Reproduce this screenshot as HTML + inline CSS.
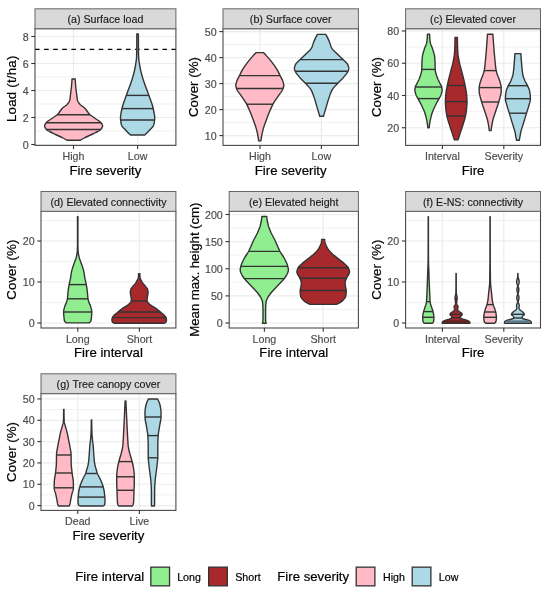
<!DOCTYPE html>
<html><head><meta charset="utf-8"><title>Violin plots</title>
<style>html,body{margin:0;padding:0;background:#fff}body{width:550px;height:594px;overflow:hidden;font-family:"Liberation Sans",Arial,sans-serif}</style>
</head><body>
<svg width="550" height="594" viewBox="0 0 550 594" style="display:block">
<rect x="35" y="28.7" width="140.9" height="116.7" fill="#fff"/>
<line x1="35" x2="175.9" y1="131.00" y2="131.00" stroke="#EBEBEB" stroke-width="0.7"/>
<line x1="35" x2="175.9" y1="104.00" y2="104.00" stroke="#EBEBEB" stroke-width="0.7"/>
<line x1="35" x2="175.9" y1="77.00" y2="77.00" stroke="#EBEBEB" stroke-width="0.7"/>
<line x1="35" x2="175.9" y1="50.00" y2="50.00" stroke="#EBEBEB" stroke-width="0.7"/>
<line x1="35" x2="175.9" y1="144.50" y2="144.50" stroke="#ECECEC" stroke-width="1.2"/>
<line x1="35" x2="175.9" y1="117.50" y2="117.50" stroke="#ECECEC" stroke-width="1.2"/>
<line x1="35" x2="175.9" y1="90.50" y2="90.50" stroke="#ECECEC" stroke-width="1.2"/>
<line x1="35" x2="175.9" y1="63.50" y2="63.50" stroke="#ECECEC" stroke-width="1.2"/>
<line x1="35" x2="175.9" y1="36.50" y2="36.50" stroke="#ECECEC" stroke-width="1.2"/>
<line x1="73.50" x2="73.50" y1="28.7" y2="145.4" stroke="#ECECEC" stroke-width="1.2"/>
<line x1="137.60" x2="137.60" y1="28.7" y2="145.4" stroke="#ECECEC" stroke-width="1.2"/>
<line x1="35" x2="175.9" y1="49.3" y2="49.3" stroke="#000" stroke-width="1.3" stroke-dasharray="4.55,4.55"/>
<path d="M72.00,79.00 L71.96,79.75 L71.92,80.50 L71.88,81.25 L71.83,82.00 L71.77,82.75 L71.72,83.50 L71.66,84.25 L71.59,85.00 L71.53,85.75 L71.46,86.50 L71.39,87.25 L71.32,88.00 L71.24,88.75 L71.16,89.50 L71.06,90.25 L70.97,91.00 L70.87,91.75 L70.77,92.50 L70.66,93.25 L70.56,94.00 L70.47,94.75 L70.38,95.50 L70.30,96.25 L70.22,97.00 L70.13,97.75 L70.03,98.50 L69.91,99.25 L69.76,100.00 L69.58,100.75 L69.27,101.50 L68.83,102.25 L68.30,103.00 L67.71,103.75 L67.07,104.50 L66.24,105.25 L65.23,106.00 L64.17,106.75 L63.17,107.50 L62.35,108.25 L61.68,109.00 L61.08,109.75 L60.54,110.50 L60.02,111.25 L59.49,112.00 L58.94,112.75 L58.34,113.50 L57.65,114.25 L56.84,115.00 L55.88,115.75 L54.81,116.50 L53.71,117.25 L52.62,118.00 L51.56,118.75 L50.41,119.50 L49.23,120.25 L48.10,121.00 L47.12,121.75 L46.35,122.50 L45.81,123.25 L45.30,124.00 L44.88,124.75 L44.64,125.50 L44.63,126.25 L44.84,127.00 L45.22,127.75 L45.72,128.50 L46.30,129.25 L47.00,130.00 L48.08,130.75 L49.44,131.50 L50.96,132.25 L52.51,133.00 L53.99,133.75 L55.55,134.50 L57.19,135.25 L58.85,136.00 L60.47,136.75 L62.00,137.50 L63.43,138.25 L64.82,139.00 L66.15,139.75 L67.10,140.30 L80.10,140.30 L81.05,139.75 L82.38,139.00 L83.77,138.25 L85.20,137.50 L86.73,136.75 L88.35,136.00 L90.01,135.25 L91.65,134.50 L93.21,133.75 L94.69,133.00 L96.24,132.25 L97.76,131.50 L99.12,130.75 L100.20,130.00 L100.90,129.25 L101.48,128.50 L101.98,127.75 L102.36,127.00 L102.57,126.25 L102.56,125.50 L102.32,124.75 L101.90,124.00 L101.39,123.25 L100.85,122.50 L100.08,121.75 L99.10,121.00 L97.97,120.25 L96.79,119.50 L95.64,118.75 L94.58,118.00 L93.49,117.25 L92.39,116.50 L91.32,115.75 L90.36,115.00 L89.55,114.25 L88.86,113.50 L88.26,112.75 L87.71,112.00 L87.18,111.25 L86.66,110.50 L86.12,109.75 L85.52,109.00 L84.85,108.25 L84.03,107.50 L83.03,106.75 L81.97,106.00 L80.96,105.25 L80.13,104.50 L79.49,103.75 L78.90,103.00 L78.37,102.25 L77.93,101.50 L77.62,100.75 L77.44,100.00 L77.29,99.25 L77.17,98.50 L77.07,97.75 L76.98,97.00 L76.90,96.25 L76.82,95.50 L76.73,94.75 L76.64,94.00 L76.54,93.25 L76.43,92.50 L76.33,91.75 L76.23,91.00 L76.14,90.25 L76.04,89.50 L75.96,88.75 L75.88,88.00 L75.81,87.25 L75.74,86.50 L75.67,85.75 L75.61,85.00 L75.54,84.25 L75.48,83.50 L75.43,82.75 L75.37,82.00 L75.32,81.25 L75.28,80.50 L75.24,79.75 L75.20,79.00Z" fill="#FFBAC5" stroke="#333333" stroke-width="1.4" stroke-linejoin="round"/>
<line x1="57.19" y1="114.70" x2="90.01" y2="114.70" stroke="#333333" stroke-width="1.4"/>
<line x1="46.13" y1="122.80" x2="101.07" y2="122.80" stroke="#333333" stroke-width="1.4"/>
<line x1="46.50" y1="129.50" x2="100.70" y2="129.50" stroke="#333333" stroke-width="1.4"/>
<path d="M136.80,34.00 L136.80,34.75 L136.80,35.50 L136.80,36.25 L136.80,37.00 L136.80,37.75 L136.80,38.50 L136.79,39.25 L136.79,40.00 L136.79,40.75 L136.79,41.50 L136.79,42.25 L136.78,43.00 L136.78,43.75 L136.78,44.50 L136.78,45.25 L136.77,46.00 L136.77,46.75 L136.76,47.50 L136.76,48.25 L136.76,49.00 L136.75,49.75 L136.75,50.50 L136.74,51.25 L136.72,52.00 L136.71,52.75 L136.69,53.50 L136.66,54.25 L136.64,55.00 L136.61,55.75 L136.57,56.50 L136.54,57.25 L136.50,58.00 L136.45,58.75 L136.37,59.50 L136.28,60.25 L136.18,61.00 L136.06,61.75 L135.94,62.50 L135.82,63.25 L135.70,64.00 L135.58,64.75 L135.46,65.50 L135.33,66.25 L135.19,67.00 L135.05,67.75 L134.91,68.50 L134.76,69.25 L134.60,70.00 L134.44,70.75 L134.26,71.50 L134.08,72.25 L133.89,73.00 L133.70,73.75 L133.50,74.50 L133.29,75.25 L133.08,76.00 L132.87,76.75 L132.65,77.50 L132.43,78.25 L132.20,79.00 L131.96,79.75 L131.71,80.50 L131.45,81.25 L131.20,82.00 L130.94,82.75 L130.67,83.50 L130.41,84.25 L130.15,85.00 L129.88,85.75 L129.60,86.50 L129.32,87.25 L129.04,88.00 L128.76,88.75 L128.47,89.50 L128.19,90.25 L127.91,91.00 L127.62,91.75 L127.34,92.50 L127.07,93.25 L126.80,94.00 L126.53,94.75 L126.27,95.50 L126.00,96.25 L125.73,97.00 L125.46,97.75 L125.19,98.50 L124.91,99.25 L124.64,100.00 L124.37,100.75 L124.10,101.50 L123.84,102.25 L123.58,103.00 L123.33,103.75 L123.09,104.50 L122.86,105.25 L122.64,106.00 L122.44,106.75 L122.25,107.50 L122.08,108.25 L121.92,109.00 L121.75,109.75 L121.59,110.50 L121.42,111.25 L121.26,112.00 L121.11,112.75 L120.97,113.50 L120.84,114.25 L120.72,115.00 L120.63,115.75 L120.56,116.50 L120.52,117.25 L120.50,118.00 L120.51,118.75 L120.55,119.50 L120.62,120.25 L120.71,121.00 L120.82,121.75 L120.95,122.50 L121.10,123.25 L121.26,124.00 L121.44,124.75 L121.67,125.50 L122.09,126.25 L122.66,127.00 L123.33,127.75 L124.06,128.50 L124.80,129.25 L125.50,130.00 L126.18,130.75 L126.89,131.50 L127.62,132.25 L128.37,133.00 L129.15,133.75 L129.95,134.50 L130.50,135.00 L144.70,135.00 L145.25,134.50 L146.05,133.75 L146.83,133.00 L147.58,132.25 L148.31,131.50 L149.02,130.75 L149.70,130.00 L150.40,129.25 L151.14,128.50 L151.87,127.75 L152.54,127.00 L153.11,126.25 L153.53,125.50 L153.76,124.75 L153.94,124.00 L154.10,123.25 L154.25,122.50 L154.38,121.75 L154.49,121.00 L154.58,120.25 L154.65,119.50 L154.69,118.75 L154.70,118.00 L154.68,117.25 L154.64,116.50 L154.57,115.75 L154.48,115.00 L154.36,114.25 L154.23,113.50 L154.09,112.75 L153.94,112.00 L153.78,111.25 L153.61,110.50 L153.45,109.75 L153.28,109.00 L153.12,108.25 L152.95,107.50 L152.76,106.75 L152.56,106.00 L152.34,105.25 L152.11,104.50 L151.87,103.75 L151.62,103.00 L151.36,102.25 L151.10,101.50 L150.83,100.75 L150.56,100.00 L150.29,99.25 L150.01,98.50 L149.74,97.75 L149.47,97.00 L149.20,96.25 L148.93,95.50 L148.67,94.75 L148.40,94.00 L148.13,93.25 L147.86,92.50 L147.58,91.75 L147.29,91.00 L147.01,90.25 L146.73,89.50 L146.44,88.75 L146.16,88.00 L145.88,87.25 L145.60,86.50 L145.32,85.75 L145.05,85.00 L144.79,84.25 L144.53,83.50 L144.26,82.75 L144.00,82.00 L143.75,81.25 L143.49,80.50 L143.24,79.75 L143.00,79.00 L142.77,78.25 L142.55,77.50 L142.33,76.75 L142.12,76.00 L141.91,75.25 L141.70,74.50 L141.50,73.75 L141.31,73.00 L141.12,72.25 L140.94,71.50 L140.76,70.75 L140.60,70.00 L140.44,69.25 L140.29,68.50 L140.15,67.75 L140.01,67.00 L139.87,66.25 L139.74,65.50 L139.62,64.75 L139.50,64.00 L139.38,63.25 L139.26,62.50 L139.14,61.75 L139.02,61.00 L138.92,60.25 L138.83,59.50 L138.75,58.75 L138.70,58.00 L138.66,57.25 L138.63,56.50 L138.59,55.75 L138.56,55.00 L138.54,54.25 L138.51,53.50 L138.49,52.75 L138.48,52.00 L138.46,51.25 L138.45,50.50 L138.45,49.75 L138.44,49.00 L138.44,48.25 L138.44,47.50 L138.43,46.75 L138.43,46.00 L138.42,45.25 L138.42,44.50 L138.42,43.75 L138.42,43.00 L138.41,42.25 L138.41,41.50 L138.41,40.75 L138.41,40.00 L138.41,39.25 L138.40,38.50 L138.40,37.75 L138.40,37.00 L138.40,36.25 L138.40,35.50 L138.40,34.75 L138.40,34.00Z" fill="#ADD8E6" stroke="#333333" stroke-width="1.4" stroke-linejoin="round"/>
<line x1="126.30" y1="95.40" x2="148.90" y2="95.40" stroke="#333333" stroke-width="1.4"/>
<line x1="122.00" y1="108.60" x2="153.20" y2="108.60" stroke="#333333" stroke-width="1.4"/>
<line x1="120.60" y1="120.00" x2="154.60" y2="120.00" stroke="#333333" stroke-width="1.4"/>
<rect x="35" y="28.7" width="140.9" height="116.7" fill="none" stroke="#4a4a4a" stroke-width="1.1"/>
<rect x="35" y="8.8" width="140.9" height="19.9" fill="#D9D9D9" stroke="#666" stroke-width="1.0"/>
<text x="105.45" y="23.45" font-size="10.67" fill="#1A1A1A" stroke="#1A1A1A" stroke-width="0.15" text-anchor="middle" font-family="Liberation Sans, Arial, Helvetica, sans-serif">(a) Surface load</text>
<line x1="31.30" x2="35" y1="144.50" y2="144.50" stroke="#333" stroke-width="1.1"/>
<text x="28.60" y="148.70" font-size="10.67" fill="#4D4D4D" stroke="#4D4D4D" stroke-width="0.18" text-anchor="end" font-family="Liberation Sans, Arial, Helvetica, sans-serif">0</text>
<line x1="31.30" x2="35" y1="117.50" y2="117.50" stroke="#333" stroke-width="1.1"/>
<text x="28.60" y="121.70" font-size="10.67" fill="#4D4D4D" stroke="#4D4D4D" stroke-width="0.18" text-anchor="end" font-family="Liberation Sans, Arial, Helvetica, sans-serif">2</text>
<line x1="31.30" x2="35" y1="90.50" y2="90.50" stroke="#333" stroke-width="1.1"/>
<text x="28.60" y="94.70" font-size="10.67" fill="#4D4D4D" stroke="#4D4D4D" stroke-width="0.18" text-anchor="end" font-family="Liberation Sans, Arial, Helvetica, sans-serif">4</text>
<line x1="31.30" x2="35" y1="63.50" y2="63.50" stroke="#333" stroke-width="1.1"/>
<text x="28.60" y="67.70" font-size="10.67" fill="#4D4D4D" stroke="#4D4D4D" stroke-width="0.18" text-anchor="end" font-family="Liberation Sans, Arial, Helvetica, sans-serif">6</text>
<line x1="31.30" x2="35" y1="36.50" y2="36.50" stroke="#333" stroke-width="1.1"/>
<text x="28.60" y="40.70" font-size="10.67" fill="#4D4D4D" stroke="#4D4D4D" stroke-width="0.18" text-anchor="end" font-family="Liberation Sans, Arial, Helvetica, sans-serif">8</text>
<line x1="73.50" x2="73.50" y1="145.4" y2="149.10" stroke="#333" stroke-width="1.1"/>
<text x="73.50" y="160.20" font-size="10.67" fill="#4D4D4D" stroke="#4D4D4D" stroke-width="0.18" text-anchor="middle" font-family="Liberation Sans, Arial, Helvetica, sans-serif">High</text>
<line x1="137.60" x2="137.60" y1="145.4" y2="149.10" stroke="#333" stroke-width="1.1"/>
<text x="137.60" y="160.20" font-size="10.67" fill="#4D4D4D" stroke="#4D4D4D" stroke-width="0.18" text-anchor="middle" font-family="Liberation Sans, Arial, Helvetica, sans-serif">Low</text>
<text x="105.45" y="174.50" font-size="13.2" fill="#000" stroke="#000" stroke-width="0.2" text-anchor="middle" font-family="Liberation Sans, Arial, Helvetica, sans-serif">Fire severity</text>
<text transform="translate(16.2,88.85) rotate(-90)" font-size="13.33" fill="#000" stroke="#000" stroke-width="0.2" text-anchor="middle" textLength="66.5" font-family="Liberation Sans, Arial, Helvetica, sans-serif">Load (t/ha)</text>
<rect x="223" y="28.7" width="135.39999999999998" height="116.7" fill="#fff"/>
<line x1="223" x2="358.4" y1="122.60" y2="122.60" stroke="#EBEBEB" stroke-width="0.7"/>
<line x1="223" x2="358.4" y1="96.60" y2="96.60" stroke="#EBEBEB" stroke-width="0.7"/>
<line x1="223" x2="358.4" y1="70.60" y2="70.60" stroke="#EBEBEB" stroke-width="0.7"/>
<line x1="223" x2="358.4" y1="44.60" y2="44.60" stroke="#EBEBEB" stroke-width="0.7"/>
<line x1="223" x2="358.4" y1="135.60" y2="135.60" stroke="#ECECEC" stroke-width="1.2"/>
<line x1="223" x2="358.4" y1="109.60" y2="109.60" stroke="#ECECEC" stroke-width="1.2"/>
<line x1="223" x2="358.4" y1="83.60" y2="83.60" stroke="#ECECEC" stroke-width="1.2"/>
<line x1="223" x2="358.4" y1="57.60" y2="57.60" stroke="#ECECEC" stroke-width="1.2"/>
<line x1="223" x2="358.4" y1="31.60" y2="31.60" stroke="#ECECEC" stroke-width="1.2"/>
<line x1="260.00" x2="260.00" y1="28.7" y2="145.4" stroke="#ECECEC" stroke-width="1.2"/>
<line x1="321.40" x2="321.40" y1="28.7" y2="145.4" stroke="#ECECEC" stroke-width="1.2"/>
<path d="M256.20,52.60 L255.46,53.35 L254.73,54.10 L254.01,54.85 L253.31,55.60 L252.62,56.35 L251.94,57.10 L251.27,57.85 L250.62,58.60 L249.98,59.35 L249.36,60.10 L248.75,60.85 L248.16,61.60 L247.57,62.35 L247.00,63.10 L246.44,63.85 L245.89,64.60 L245.35,65.35 L244.82,66.10 L244.30,66.85 L243.80,67.60 L243.32,68.35 L242.85,69.10 L242.40,69.85 L241.97,70.60 L241.57,71.35 L241.19,72.10 L240.82,72.85 L240.46,73.60 L240.10,74.35 L239.74,75.10 L239.38,75.85 L238.99,76.60 L238.59,77.35 L238.18,78.10 L237.79,78.85 L237.43,79.60 L237.11,80.35 L236.83,81.10 L236.59,81.85 L236.35,82.60 L236.12,83.35 L235.94,84.10 L235.83,84.85 L235.80,85.60 L235.90,86.35 L236.08,87.10 L236.31,87.85 L236.57,88.60 L236.85,89.35 L237.23,90.10 L237.68,90.85 L238.18,91.60 L238.71,92.35 L239.27,93.10 L239.83,93.85 L240.38,94.60 L240.90,95.35 L241.40,96.10 L241.90,96.85 L242.42,97.60 L242.94,98.35 L243.46,99.10 L243.97,99.85 L244.48,100.60 L244.98,101.35 L245.45,102.10 L245.91,102.85 L246.34,103.60 L246.74,104.35 L247.12,105.10 L247.49,105.85 L247.85,106.60 L248.19,107.35 L248.53,108.10 L248.85,108.85 L249.18,109.60 L249.49,110.35 L249.80,111.10 L250.11,111.85 L250.42,112.60 L250.73,113.35 L251.03,114.10 L251.32,114.85 L251.61,115.60 L251.90,116.35 L252.18,117.10 L252.46,117.85 L252.73,118.60 L253.01,119.35 L253.28,120.10 L253.55,120.85 L253.83,121.60 L254.11,122.35 L254.39,123.10 L254.67,123.85 L254.94,124.60 L255.21,125.35 L255.47,126.10 L255.72,126.85 L255.96,127.60 L256.19,128.35 L256.40,129.10 L256.60,129.85 L256.78,130.60 L256.96,131.35 L257.13,132.10 L257.30,132.85 L257.45,133.60 L257.60,134.35 L257.75,135.10 L257.89,135.85 L258.03,136.60 L258.16,137.35 L258.28,138.10 L258.40,138.85 L258.52,139.60 L258.62,140.35 L258.70,140.90 L260.90,140.90 L260.98,140.35 L261.08,139.60 L261.20,138.85 L261.32,138.10 L261.44,137.35 L261.57,136.60 L261.71,135.85 L261.85,135.10 L262.00,134.35 L262.15,133.60 L262.30,132.85 L262.47,132.10 L262.64,131.35 L262.82,130.60 L263.00,129.85 L263.20,129.10 L263.41,128.35 L263.64,127.60 L263.88,126.85 L264.13,126.10 L264.39,125.35 L264.66,124.60 L264.93,123.85 L265.21,123.10 L265.49,122.35 L265.77,121.60 L266.05,120.85 L266.32,120.10 L266.59,119.35 L266.87,118.60 L267.14,117.85 L267.42,117.10 L267.70,116.35 L267.99,115.60 L268.28,114.85 L268.57,114.10 L268.87,113.35 L269.18,112.60 L269.49,111.85 L269.80,111.10 L270.11,110.35 L270.42,109.60 L270.75,108.85 L271.07,108.10 L271.41,107.35 L271.75,106.60 L272.11,105.85 L272.48,105.10 L272.86,104.35 L273.26,103.60 L273.69,102.85 L274.15,102.10 L274.62,101.35 L275.12,100.60 L275.63,99.85 L276.14,99.10 L276.66,98.35 L277.18,97.60 L277.70,96.85 L278.20,96.10 L278.70,95.35 L279.22,94.60 L279.77,93.85 L280.33,93.10 L280.89,92.35 L281.42,91.60 L281.92,90.85 L282.37,90.10 L282.75,89.35 L283.03,88.60 L283.29,87.85 L283.52,87.10 L283.70,86.35 L283.80,85.60 L283.77,84.85 L283.66,84.10 L283.48,83.35 L283.25,82.60 L283.01,81.85 L282.77,81.10 L282.49,80.35 L282.17,79.60 L281.81,78.85 L281.42,78.10 L281.01,77.35 L280.61,76.60 L280.22,75.85 L279.86,75.10 L279.50,74.35 L279.14,73.60 L278.78,72.85 L278.41,72.10 L278.03,71.35 L277.63,70.60 L277.20,69.85 L276.75,69.10 L276.28,68.35 L275.80,67.60 L275.30,66.85 L274.78,66.10 L274.25,65.35 L273.71,64.60 L273.16,63.85 L272.60,63.10 L272.03,62.35 L271.44,61.60 L270.85,60.85 L270.24,60.10 L269.62,59.35 L268.98,58.60 L268.33,57.85 L267.66,57.10 L266.98,56.35 L266.29,55.60 L265.59,54.85 L264.87,54.10 L264.14,53.35 L263.40,52.60Z" fill="#FFBAC5" stroke="#333333" stroke-width="1.4" stroke-linejoin="round"/>
<line x1="239.50" y1="75.60" x2="280.10" y2="75.60" stroke="#333333" stroke-width="1.4"/>
<line x1="236.53" y1="88.50" x2="283.07" y2="88.50" stroke="#333333" stroke-width="1.4"/>
<line x1="246.66" y1="104.20" x2="272.94" y2="104.20" stroke="#333333" stroke-width="1.4"/>
<path d="M317.40,34.40 L316.99,35.15 L316.59,35.90 L316.19,36.65 L315.81,37.40 L315.44,38.15 L315.07,38.90 L314.72,39.65 L314.38,40.40 L314.05,41.15 L313.74,41.90 L313.46,42.65 L313.21,43.40 L312.97,44.15 L312.74,44.90 L312.49,45.65 L312.22,46.40 L311.92,47.15 L311.56,47.90 L311.12,48.65 L310.54,49.40 L309.84,50.15 L309.06,50.90 L308.25,51.65 L307.43,52.40 L306.65,53.15 L305.90,53.90 L305.12,54.65 L304.34,55.40 L303.55,56.15 L302.76,56.90 L301.98,57.65 L301.20,58.40 L300.44,59.15 L299.70,59.90 L298.90,60.65 L298.09,61.40 L297.30,62.15 L296.59,62.90 L296.01,63.65 L295.61,64.40 L295.27,65.15 L294.96,65.90 L294.69,66.65 L294.50,67.40 L294.41,68.15 L294.44,68.90 L294.61,69.65 L294.89,70.40 L295.20,71.15 L295.53,71.90 L295.95,72.65 L296.45,73.40 L297.01,74.15 L297.61,74.90 L298.24,75.65 L298.87,76.40 L299.50,77.15 L300.17,77.90 L300.88,78.65 L301.63,79.40 L302.40,80.15 L303.16,80.90 L303.92,81.65 L304.66,82.40 L305.36,83.15 L306.04,83.90 L306.74,84.65 L307.44,85.40 L308.13,86.15 L308.81,86.90 L309.45,87.65 L310.05,88.40 L310.60,89.15 L311.08,89.90 L311.48,90.65 L311.85,91.40 L312.18,92.15 L312.50,92.90 L312.79,93.65 L313.07,94.40 L313.33,95.15 L313.58,95.90 L313.83,96.65 L314.07,97.40 L314.32,98.15 L314.57,98.90 L314.81,99.65 L315.05,100.40 L315.27,101.15 L315.50,101.90 L315.71,102.65 L315.93,103.40 L316.14,104.15 L316.36,104.90 L316.57,105.65 L316.79,106.40 L317.01,107.15 L317.24,107.90 L317.47,108.65 L317.69,109.40 L317.92,110.15 L318.14,110.90 L318.37,111.65 L318.59,112.40 L318.81,113.15 L319.02,113.90 L319.24,114.65 L319.45,115.40 L319.66,116.15 L319.70,116.30 L323.50,116.30 L323.54,116.15 L323.75,115.40 L323.96,114.65 L324.18,113.90 L324.39,113.15 L324.61,112.40 L324.83,111.65 L325.06,110.90 L325.28,110.15 L325.51,109.40 L325.73,108.65 L325.96,107.90 L326.19,107.15 L326.41,106.40 L326.63,105.65 L326.84,104.90 L327.06,104.15 L327.27,103.40 L327.49,102.65 L327.70,101.90 L327.93,101.15 L328.15,100.40 L328.39,99.65 L328.63,98.90 L328.88,98.15 L329.13,97.40 L329.37,96.65 L329.62,95.90 L329.87,95.15 L330.13,94.40 L330.41,93.65 L330.70,92.90 L331.02,92.15 L331.35,91.40 L331.72,90.65 L332.12,89.90 L332.60,89.15 L333.15,88.40 L333.75,87.65 L334.39,86.90 L335.07,86.15 L335.76,85.40 L336.46,84.65 L337.16,83.90 L337.84,83.15 L338.54,82.40 L339.28,81.65 L340.04,80.90 L340.80,80.15 L341.57,79.40 L342.32,78.65 L343.03,77.90 L343.70,77.15 L344.33,76.40 L344.96,75.65 L345.59,74.90 L346.19,74.15 L346.75,73.40 L347.25,72.65 L347.67,71.90 L348.00,71.15 L348.31,70.40 L348.59,69.65 L348.76,68.90 L348.79,68.15 L348.70,67.40 L348.51,66.65 L348.24,65.90 L347.93,65.15 L347.59,64.40 L347.19,63.65 L346.61,62.90 L345.90,62.15 L345.11,61.40 L344.30,60.65 L343.50,59.90 L342.76,59.15 L342.00,58.40 L341.22,57.65 L340.44,56.90 L339.65,56.15 L338.86,55.40 L338.08,54.65 L337.30,53.90 L336.55,53.15 L335.77,52.40 L334.95,51.65 L334.14,50.90 L333.36,50.15 L332.66,49.40 L332.08,48.65 L331.64,47.90 L331.28,47.15 L330.98,46.40 L330.71,45.65 L330.46,44.90 L330.23,44.15 L329.99,43.40 L329.74,42.65 L329.46,41.90 L329.15,41.15 L328.82,40.40 L328.48,39.65 L328.13,38.90 L327.76,38.15 L327.39,37.40 L327.01,36.65 L326.61,35.90 L326.21,35.15 L325.80,34.40Z" fill="#ADD8E6" stroke="#333333" stroke-width="1.4" stroke-linejoin="round"/>
<line x1="300.00" y1="59.60" x2="343.20" y2="59.60" stroke="#333333" stroke-width="1.4"/>
<line x1="295.22" y1="71.20" x2="347.98" y2="71.20" stroke="#333333" stroke-width="1.4"/>
<line x1="305.49" y1="83.30" x2="337.71" y2="83.30" stroke="#333333" stroke-width="1.4"/>
<rect x="223" y="28.7" width="135.39999999999998" height="116.7" fill="none" stroke="#4a4a4a" stroke-width="1.1"/>
<rect x="223" y="8.8" width="135.39999999999998" height="19.9" fill="#D9D9D9" stroke="#666" stroke-width="1.0"/>
<text x="290.70" y="23.45" font-size="10.67" fill="#1A1A1A" stroke="#1A1A1A" stroke-width="0.15" text-anchor="middle" font-family="Liberation Sans, Arial, Helvetica, sans-serif">(b) Surface cover</text>
<line x1="219.30" x2="223" y1="135.60" y2="135.60" stroke="#333" stroke-width="1.1"/>
<text x="216.60" y="139.80" font-size="10.67" fill="#4D4D4D" stroke="#4D4D4D" stroke-width="0.18" text-anchor="end" font-family="Liberation Sans, Arial, Helvetica, sans-serif">10</text>
<line x1="219.30" x2="223" y1="109.60" y2="109.60" stroke="#333" stroke-width="1.1"/>
<text x="216.60" y="113.80" font-size="10.67" fill="#4D4D4D" stroke="#4D4D4D" stroke-width="0.18" text-anchor="end" font-family="Liberation Sans, Arial, Helvetica, sans-serif">20</text>
<line x1="219.30" x2="223" y1="83.60" y2="83.60" stroke="#333" stroke-width="1.1"/>
<text x="216.60" y="87.80" font-size="10.67" fill="#4D4D4D" stroke="#4D4D4D" stroke-width="0.18" text-anchor="end" font-family="Liberation Sans, Arial, Helvetica, sans-serif">30</text>
<line x1="219.30" x2="223" y1="57.60" y2="57.60" stroke="#333" stroke-width="1.1"/>
<text x="216.60" y="61.80" font-size="10.67" fill="#4D4D4D" stroke="#4D4D4D" stroke-width="0.18" text-anchor="end" font-family="Liberation Sans, Arial, Helvetica, sans-serif">40</text>
<line x1="219.30" x2="223" y1="31.60" y2="31.60" stroke="#333" stroke-width="1.1"/>
<text x="216.60" y="35.80" font-size="10.67" fill="#4D4D4D" stroke="#4D4D4D" stroke-width="0.18" text-anchor="end" font-family="Liberation Sans, Arial, Helvetica, sans-serif">50</text>
<line x1="260.00" x2="260.00" y1="145.4" y2="149.10" stroke="#333" stroke-width="1.1"/>
<text x="260.00" y="160.20" font-size="10.67" fill="#4D4D4D" stroke="#4D4D4D" stroke-width="0.18" text-anchor="middle" font-family="Liberation Sans, Arial, Helvetica, sans-serif">High</text>
<line x1="321.40" x2="321.40" y1="145.4" y2="149.10" stroke="#333" stroke-width="1.1"/>
<text x="321.40" y="160.20" font-size="10.67" fill="#4D4D4D" stroke="#4D4D4D" stroke-width="0.18" text-anchor="middle" font-family="Liberation Sans, Arial, Helvetica, sans-serif">Low</text>
<text x="290.70" y="174.50" font-size="13.2" fill="#000" stroke="#000" stroke-width="0.2" text-anchor="middle" font-family="Liberation Sans, Arial, Helvetica, sans-serif">Fire severity</text>
<text transform="translate(197.9,87.05) rotate(-90)" font-size="13.33" fill="#000" stroke="#000" stroke-width="0.2" text-anchor="middle" font-family="Liberation Sans, Arial, Helvetica, sans-serif">Cover (%)</text>
<rect x="405.6" y="28.7" width="134.89999999999998" height="116.7" fill="#fff"/>
<line x1="405.6" x2="540.5" y1="143.88" y2="143.88" stroke="#EBEBEB" stroke-width="0.7"/>
<line x1="405.6" x2="540.5" y1="111.62" y2="111.62" stroke="#EBEBEB" stroke-width="0.7"/>
<line x1="405.6" x2="540.5" y1="79.38" y2="79.38" stroke="#EBEBEB" stroke-width="0.7"/>
<line x1="405.6" x2="540.5" y1="47.12" y2="47.12" stroke="#EBEBEB" stroke-width="0.7"/>
<line x1="405.6" x2="540.5" y1="127.75" y2="127.75" stroke="#ECECEC" stroke-width="1.2"/>
<line x1="405.6" x2="540.5" y1="95.50" y2="95.50" stroke="#ECECEC" stroke-width="1.2"/>
<line x1="405.6" x2="540.5" y1="63.25" y2="63.25" stroke="#ECECEC" stroke-width="1.2"/>
<line x1="405.6" x2="540.5" y1="31.00" y2="31.00" stroke="#ECECEC" stroke-width="1.2"/>
<line x1="442.40" x2="442.40" y1="28.7" y2="145.4" stroke="#ECECEC" stroke-width="1.2"/>
<line x1="503.80" x2="503.80" y1="28.7" y2="145.4" stroke="#ECECEC" stroke-width="1.2"/>
<path d="M427.40,34.30 L427.39,35.05 L427.37,35.80 L427.34,36.55 L427.30,37.30 L427.25,38.05 L427.18,38.80 L427.12,39.55 L427.04,40.30 L426.96,41.05 L426.87,41.80 L426.74,42.55 L426.54,43.30 L426.30,44.05 L426.03,44.80 L425.73,45.55 L425.42,46.30 L425.11,47.05 L424.81,47.80 L424.54,48.55 L424.30,49.30 L424.08,50.05 L423.84,50.80 L423.61,51.55 L423.38,52.30 L423.15,53.05 L422.94,53.80 L422.75,54.55 L422.58,55.30 L422.44,56.05 L422.33,56.80 L422.26,57.55 L422.20,58.30 L422.14,59.05 L422.09,59.80 L422.04,60.55 L422.00,61.30 L421.97,62.05 L421.94,62.80 L421.91,63.55 L421.89,64.30 L421.88,65.05 L421.86,65.80 L421.86,66.55 L421.85,67.30 L421.83,68.05 L421.82,68.80 L421.79,69.55 L421.74,70.30 L421.64,71.05 L421.50,71.80 L421.33,72.55 L421.14,73.30 L420.92,74.05 L420.67,74.80 L420.42,75.55 L420.15,76.30 L419.88,77.05 L419.61,77.80 L419.35,78.55 L419.04,79.30 L418.70,80.05 L418.32,80.80 L417.93,81.55 L417.55,82.30 L417.18,83.05 L416.78,83.80 L416.36,84.55 L415.95,85.30 L415.60,86.05 L415.35,86.80 L415.19,87.55 L415.06,88.30 L414.95,89.05 L414.90,89.80 L414.92,90.55 L415.02,91.30 L415.17,92.05 L415.36,92.80 L415.57,93.55 L415.79,94.30 L416.09,95.05 L416.45,95.80 L416.85,96.55 L417.28,97.30 L417.70,98.05 L418.10,98.80 L418.51,99.55 L418.92,100.30 L419.33,101.05 L419.73,101.80 L420.13,102.55 L420.51,103.30 L420.89,104.05 L421.26,104.80 L421.63,105.55 L421.99,106.30 L422.34,107.05 L422.68,107.80 L423.03,108.55 L423.38,109.30 L423.72,110.05 L424.04,110.80 L424.33,111.55 L424.61,112.30 L424.86,113.05 L425.10,113.80 L425.33,114.55 L425.55,115.30 L425.76,116.05 L425.95,116.80 L426.13,117.55 L426.31,118.30 L426.48,119.05 L426.65,119.80 L426.80,120.55 L426.95,121.30 L427.08,122.05 L427.20,122.80 L427.31,123.55 L427.42,124.30 L427.52,125.05 L427.61,125.80 L427.69,126.55 L427.76,127.30 L427.80,127.70 L429.20,127.70 L429.24,127.30 L429.31,126.55 L429.39,125.80 L429.48,125.05 L429.58,124.30 L429.69,123.55 L429.80,122.80 L429.92,122.05 L430.05,121.30 L430.20,120.55 L430.35,119.80 L430.52,119.05 L430.69,118.30 L430.87,117.55 L431.05,116.80 L431.24,116.05 L431.45,115.30 L431.67,114.55 L431.90,113.80 L432.14,113.05 L432.39,112.30 L432.67,111.55 L432.96,110.80 L433.28,110.05 L433.62,109.30 L433.97,108.55 L434.32,107.80 L434.66,107.05 L435.01,106.30 L435.37,105.55 L435.74,104.80 L436.11,104.05 L436.49,103.30 L436.87,102.55 L437.27,101.80 L437.67,101.05 L438.08,100.30 L438.49,99.55 L438.90,98.80 L439.30,98.05 L439.72,97.30 L440.15,96.55 L440.55,95.80 L440.91,95.05 L441.21,94.30 L441.43,93.55 L441.64,92.80 L441.83,92.05 L441.98,91.30 L442.08,90.55 L442.10,89.80 L442.05,89.05 L441.94,88.30 L441.81,87.55 L441.65,86.80 L441.40,86.05 L441.05,85.30 L440.64,84.55 L440.22,83.80 L439.82,83.05 L439.45,82.30 L439.07,81.55 L438.68,80.80 L438.30,80.05 L437.96,79.30 L437.65,78.55 L437.39,77.80 L437.12,77.05 L436.85,76.30 L436.58,75.55 L436.33,74.80 L436.08,74.05 L435.86,73.30 L435.67,72.55 L435.50,71.80 L435.36,71.05 L435.26,70.30 L435.21,69.55 L435.18,68.80 L435.17,68.05 L435.15,67.30 L435.14,66.55 L435.14,65.80 L435.12,65.05 L435.11,64.30 L435.09,63.55 L435.06,62.80 L435.03,62.05 L435.00,61.30 L434.96,60.55 L434.91,59.80 L434.86,59.05 L434.80,58.30 L434.74,57.55 L434.67,56.80 L434.56,56.05 L434.42,55.30 L434.25,54.55 L434.06,53.80 L433.85,53.05 L433.62,52.30 L433.39,51.55 L433.16,50.80 L432.92,50.05 L432.70,49.30 L432.46,48.55 L432.19,47.80 L431.89,47.05 L431.58,46.30 L431.27,45.55 L430.97,44.80 L430.70,44.05 L430.46,43.30 L430.26,42.55 L430.13,41.80 L430.04,41.05 L429.96,40.30 L429.88,39.55 L429.82,38.80 L429.75,38.05 L429.70,37.30 L429.66,36.55 L429.63,35.80 L429.61,35.05 L429.60,34.30Z" fill="#90EE90" stroke="#333333" stroke-width="1.4" stroke-linejoin="round"/>
<line x1="421.80" y1="69.40" x2="435.20" y2="69.40" stroke="#333333" stroke-width="1.4"/>
<line x1="415.30" y1="87.00" x2="441.70" y2="87.00" stroke="#333333" stroke-width="1.4"/>
<line x1="418.00" y1="98.60" x2="439.00" y2="98.60" stroke="#333333" stroke-width="1.4"/>
<path d="M455.00,37.40 L455.00,38.15 L454.99,38.90 L454.99,39.65 L454.98,40.40 L454.97,41.15 L454.96,41.90 L454.95,42.65 L454.93,43.40 L454.92,44.15 L454.90,44.90 L454.89,45.65 L454.86,46.40 L454.84,47.15 L454.81,47.90 L454.78,48.65 L454.74,49.40 L454.70,50.15 L454.66,50.90 L454.61,51.65 L454.56,52.40 L454.50,53.15 L454.44,53.90 L454.36,54.65 L454.27,55.40 L454.16,56.15 L454.04,56.90 L453.92,57.65 L453.79,58.40 L453.65,59.15 L453.51,59.90 L453.37,60.65 L453.22,61.40 L453.06,62.15 L452.89,62.90 L452.71,63.65 L452.53,64.40 L452.33,65.15 L452.13,65.90 L451.93,66.65 L451.74,67.40 L451.54,68.15 L451.35,68.90 L451.16,69.65 L450.96,70.40 L450.77,71.15 L450.57,71.90 L450.37,72.65 L450.17,73.40 L449.98,74.15 L449.78,74.90 L449.59,75.65 L449.39,76.40 L449.21,77.15 L449.02,77.90 L448.84,78.65 L448.66,79.40 L448.48,80.15 L448.30,80.90 L448.13,81.65 L447.96,82.40 L447.79,83.15 L447.63,83.90 L447.47,84.65 L447.32,85.40 L447.17,86.15 L447.02,86.90 L446.88,87.65 L446.73,88.40 L446.59,89.15 L446.45,89.90 L446.32,90.65 L446.20,91.40 L446.09,92.15 L446.00,92.90 L445.91,93.65 L445.84,94.40 L445.77,95.15 L445.71,95.90 L445.64,96.65 L445.58,97.40 L445.53,98.15 L445.48,98.90 L445.44,99.65 L445.42,100.40 L445.40,101.15 L445.40,101.90 L445.41,102.65 L445.44,103.40 L445.48,104.15 L445.52,104.90 L445.58,105.65 L445.64,106.40 L445.70,107.15 L445.77,107.90 L445.84,108.65 L445.91,109.40 L445.99,110.15 L446.07,110.90 L446.17,111.65 L446.28,112.40 L446.39,113.15 L446.52,113.90 L446.65,114.65 L446.79,115.40 L446.93,116.15 L447.09,116.90 L447.26,117.65 L447.45,118.40 L447.66,119.15 L447.87,119.90 L448.10,120.65 L448.33,121.40 L448.56,122.15 L448.80,122.90 L449.04,123.65 L449.28,124.40 L449.51,125.15 L449.75,125.90 L450.00,126.65 L450.25,127.40 L450.51,128.15 L450.77,128.90 L451.04,129.65 L451.30,130.40 L451.55,131.15 L451.80,131.90 L452.05,132.65 L452.28,133.40 L452.51,134.15 L452.73,134.90 L452.96,135.65 L453.20,136.40 L453.45,137.15 L453.72,137.90 L454.00,138.65 L454.30,139.40 L454.50,139.90 L457.90,139.90 L458.10,139.40 L458.40,138.65 L458.68,137.90 L458.95,137.15 L459.20,136.40 L459.44,135.65 L459.67,134.90 L459.89,134.15 L460.12,133.40 L460.35,132.65 L460.60,131.90 L460.85,131.15 L461.10,130.40 L461.36,129.65 L461.63,128.90 L461.89,128.15 L462.15,127.40 L462.40,126.65 L462.65,125.90 L462.89,125.15 L463.12,124.40 L463.36,123.65 L463.60,122.90 L463.84,122.15 L464.07,121.40 L464.30,120.65 L464.53,119.90 L464.74,119.15 L464.95,118.40 L465.14,117.65 L465.31,116.90 L465.47,116.15 L465.61,115.40 L465.75,114.65 L465.88,113.90 L466.01,113.15 L466.12,112.40 L466.23,111.65 L466.33,110.90 L466.41,110.15 L466.49,109.40 L466.56,108.65 L466.63,107.90 L466.70,107.15 L466.76,106.40 L466.82,105.65 L466.88,104.90 L466.92,104.15 L466.96,103.40 L466.99,102.65 L467.00,101.90 L467.00,101.15 L466.98,100.40 L466.96,99.65 L466.92,98.90 L466.87,98.15 L466.82,97.40 L466.76,96.65 L466.69,95.90 L466.63,95.15 L466.56,94.40 L466.49,93.65 L466.40,92.90 L466.31,92.15 L466.20,91.40 L466.08,90.65 L465.95,89.90 L465.81,89.15 L465.67,88.40 L465.52,87.65 L465.38,86.90 L465.23,86.15 L465.08,85.40 L464.93,84.65 L464.77,83.90 L464.61,83.15 L464.44,82.40 L464.27,81.65 L464.10,80.90 L463.92,80.15 L463.74,79.40 L463.56,78.65 L463.38,77.90 L463.19,77.15 L463.01,76.40 L462.81,75.65 L462.62,74.90 L462.42,74.15 L462.23,73.40 L462.03,72.65 L461.83,71.90 L461.63,71.15 L461.44,70.40 L461.24,69.65 L461.05,68.90 L460.86,68.15 L460.66,67.40 L460.47,66.65 L460.27,65.90 L460.07,65.15 L459.87,64.40 L459.69,63.65 L459.51,62.90 L459.34,62.15 L459.18,61.40 L459.03,60.65 L458.89,59.90 L458.75,59.15 L458.61,58.40 L458.48,57.65 L458.36,56.90 L458.24,56.15 L458.13,55.40 L458.04,54.65 L457.96,53.90 L457.90,53.15 L457.84,52.40 L457.79,51.65 L457.74,50.90 L457.70,50.15 L457.66,49.40 L457.62,48.65 L457.59,47.90 L457.56,47.15 L457.54,46.40 L457.51,45.65 L457.50,44.90 L457.48,44.15 L457.47,43.40 L457.45,42.65 L457.44,41.90 L457.43,41.15 L457.42,40.40 L457.41,39.65 L457.41,38.90 L457.40,38.15 L457.40,37.40Z" fill="#A8292B" stroke="#333333" stroke-width="1.4" stroke-linejoin="round"/>
<line x1="447.30" y1="85.50" x2="465.10" y2="85.50" stroke="#333333" stroke-width="1.4"/>
<line x1="445.40" y1="101.60" x2="467.00" y2="101.60" stroke="#333333" stroke-width="1.4"/>
<line x1="446.90" y1="116.00" x2="465.50" y2="116.00" stroke="#333333" stroke-width="1.4"/>
<path d="M487.50,34.30 L487.45,35.05 L487.40,35.80 L487.35,36.55 L487.30,37.30 L487.24,38.05 L487.19,38.80 L487.14,39.55 L487.08,40.30 L487.03,41.05 L486.98,41.80 L486.92,42.55 L486.86,43.30 L486.81,44.05 L486.75,44.80 L486.69,45.55 L486.64,46.30 L486.58,47.05 L486.52,47.80 L486.46,48.55 L486.40,49.30 L486.34,50.05 L486.28,50.80 L486.22,51.55 L486.16,52.30 L486.10,53.05 L486.04,53.80 L485.98,54.55 L485.92,55.30 L485.85,56.05 L485.79,56.80 L485.72,57.55 L485.65,58.30 L485.58,59.05 L485.51,59.80 L485.44,60.55 L485.36,61.30 L485.28,62.05 L485.21,62.80 L485.13,63.55 L485.06,64.30 L484.98,65.05 L484.89,65.80 L484.80,66.55 L484.71,67.30 L484.61,68.05 L484.50,68.80 L484.38,69.55 L484.25,70.30 L484.11,71.05 L483.93,71.80 L483.72,72.55 L483.49,73.30 L483.25,74.05 L483.00,74.80 L482.72,75.55 L482.43,76.30 L482.12,77.05 L481.82,77.80 L481.55,78.55 L481.27,79.30 L481.00,80.05 L480.73,80.80 L480.47,81.55 L480.24,82.30 L480.04,83.05 L479.85,83.80 L479.67,84.55 L479.49,85.30 L479.35,86.05 L479.24,86.80 L479.20,87.55 L479.20,88.30 L479.20,89.05 L479.20,89.80 L479.20,90.55 L479.20,91.30 L479.20,92.05 L479.26,92.80 L479.39,93.55 L479.56,94.30 L479.76,95.05 L479.97,95.80 L480.16,96.55 L480.34,97.30 L480.53,98.05 L480.72,98.80 L480.91,99.55 L481.12,100.30 L481.33,101.05 L481.54,101.80 L481.76,102.55 L482.00,103.30 L482.24,104.05 L482.49,104.80 L482.75,105.55 L483.01,106.30 L483.27,107.05 L483.54,107.80 L483.80,108.55 L484.06,109.30 L484.32,110.05 L484.57,110.80 L484.81,111.55 L485.06,112.30 L485.31,113.05 L485.56,113.80 L485.81,114.55 L486.07,115.30 L486.31,116.05 L486.55,116.80 L486.79,117.55 L487.01,118.30 L487.23,119.05 L487.43,119.80 L487.62,120.55 L487.79,121.30 L487.96,122.05 L488.11,122.80 L488.26,123.55 L488.40,124.30 L488.53,125.05 L488.66,125.80 L488.78,126.55 L488.89,127.30 L488.99,128.05 L489.09,128.80 L489.18,129.55 L489.27,130.30 L489.30,130.60 L491.10,130.60 L491.13,130.30 L491.22,129.55 L491.31,128.80 L491.41,128.05 L491.51,127.30 L491.62,126.55 L491.74,125.80 L491.87,125.05 L492.00,124.30 L492.14,123.55 L492.29,122.80 L492.44,122.05 L492.61,121.30 L492.78,120.55 L492.97,119.80 L493.17,119.05 L493.39,118.30 L493.61,117.55 L493.85,116.80 L494.09,116.05 L494.33,115.30 L494.59,114.55 L494.84,113.80 L495.09,113.05 L495.34,112.30 L495.59,111.55 L495.83,110.80 L496.08,110.05 L496.34,109.30 L496.60,108.55 L496.86,107.80 L497.13,107.05 L497.39,106.30 L497.65,105.55 L497.91,104.80 L498.16,104.05 L498.40,103.30 L498.64,102.55 L498.86,101.80 L499.07,101.05 L499.28,100.30 L499.49,99.55 L499.68,98.80 L499.87,98.05 L500.06,97.30 L500.24,96.55 L500.43,95.80 L500.64,95.05 L500.84,94.30 L501.01,93.55 L501.14,92.80 L501.20,92.05 L501.20,91.30 L501.20,90.55 L501.20,89.80 L501.20,89.05 L501.20,88.30 L501.20,87.55 L501.16,86.80 L501.05,86.05 L500.91,85.30 L500.73,84.55 L500.55,83.80 L500.36,83.05 L500.16,82.30 L499.93,81.55 L499.67,80.80 L499.40,80.05 L499.13,79.30 L498.85,78.55 L498.58,77.80 L498.28,77.05 L497.97,76.30 L497.68,75.55 L497.40,74.80 L497.15,74.05 L496.91,73.30 L496.68,72.55 L496.47,71.80 L496.29,71.05 L496.15,70.30 L496.02,69.55 L495.90,68.80 L495.79,68.05 L495.69,67.30 L495.60,66.55 L495.51,65.80 L495.42,65.05 L495.34,64.30 L495.27,63.55 L495.19,62.80 L495.12,62.05 L495.04,61.30 L494.96,60.55 L494.89,59.80 L494.82,59.05 L494.75,58.30 L494.68,57.55 L494.61,56.80 L494.55,56.05 L494.48,55.30 L494.42,54.55 L494.36,53.80 L494.30,53.05 L494.24,52.30 L494.18,51.55 L494.12,50.80 L494.06,50.05 L494.00,49.30 L493.94,48.55 L493.88,47.80 L493.82,47.05 L493.76,46.30 L493.71,45.55 L493.65,44.80 L493.59,44.05 L493.54,43.30 L493.48,42.55 L493.42,41.80 L493.37,41.05 L493.32,40.30 L493.26,39.55 L493.21,38.80 L493.16,38.05 L493.10,37.30 L493.05,36.55 L493.00,35.80 L492.95,35.05 L492.90,34.30Z" fill="#FFBAC5" stroke="#333333" stroke-width="1.4" stroke-linejoin="round"/>
<line x1="484.20" y1="70.60" x2="496.20" y2="70.60" stroke="#333333" stroke-width="1.4"/>
<line x1="479.20" y1="87.60" x2="501.20" y2="87.60" stroke="#333333" stroke-width="1.4"/>
<line x1="481.60" y1="102.00" x2="498.80" y2="102.00" stroke="#333333" stroke-width="1.4"/>
<path d="M514.90,53.60 L514.86,54.35 L514.82,55.10 L514.78,55.85 L514.73,56.60 L514.68,57.35 L514.63,58.10 L514.58,58.85 L514.53,59.60 L514.47,60.35 L514.41,61.10 L514.35,61.85 L514.29,62.60 L514.23,63.35 L514.16,64.10 L514.10,64.85 L514.03,65.60 L513.96,66.35 L513.90,67.10 L513.83,67.85 L513.76,68.60 L513.69,69.35 L513.61,70.10 L513.52,70.85 L513.43,71.60 L513.33,72.35 L513.23,73.10 L513.11,73.85 L512.98,74.60 L512.82,75.35 L512.63,76.10 L512.40,76.85 L512.14,77.60 L511.87,78.35 L511.58,79.10 L511.28,79.85 L510.97,80.60 L510.62,81.35 L510.23,82.10 L509.81,82.85 L509.38,83.60 L508.97,84.35 L508.58,85.10 L508.23,85.85 L507.90,86.60 L507.56,87.35 L507.22,88.10 L506.90,88.85 L506.61,89.60 L506.36,90.35 L506.15,91.10 L506.01,91.85 L505.90,92.60 L505.80,93.35 L505.71,94.10 L505.62,94.85 L505.55,95.60 L505.49,96.35 L505.44,97.10 L505.41,97.85 L505.40,98.60 L505.42,99.35 L505.51,100.10 L505.64,100.85 L505.82,101.60 L506.02,102.35 L506.23,103.10 L506.46,103.85 L506.68,104.60 L506.89,105.35 L507.09,106.10 L507.30,106.85 L507.52,107.60 L507.75,108.35 L507.99,109.10 L508.23,109.85 L508.47,110.60 L508.72,111.35 L508.96,112.10 L509.19,112.85 L509.42,113.60 L509.65,114.35 L509.88,115.10 L510.11,115.85 L510.33,116.60 L510.56,117.35 L510.79,118.10 L511.01,118.85 L511.24,119.60 L511.46,120.35 L511.69,121.10 L511.91,121.85 L512.14,122.60 L512.37,123.35 L512.60,124.10 L512.84,124.85 L513.08,125.60 L513.33,126.35 L513.57,127.10 L513.81,127.85 L514.04,128.60 L514.27,129.35 L514.49,130.10 L514.69,130.85 L514.89,131.60 L515.07,132.35 L515.23,133.10 L515.37,133.85 L515.51,134.60 L515.63,135.35 L515.76,136.10 L515.90,136.85 L516.04,137.60 L516.19,138.35 L516.34,139.10 L516.50,139.85 L516.60,140.30 L519.20,140.30 L519.30,139.85 L519.46,139.10 L519.61,138.35 L519.76,137.60 L519.90,136.85 L520.04,136.10 L520.17,135.35 L520.29,134.60 L520.43,133.85 L520.57,133.10 L520.73,132.35 L520.91,131.60 L521.11,130.85 L521.31,130.10 L521.53,129.35 L521.76,128.60 L521.99,127.85 L522.23,127.10 L522.47,126.35 L522.72,125.60 L522.96,124.85 L523.20,124.10 L523.43,123.35 L523.66,122.60 L523.89,121.85 L524.11,121.10 L524.34,120.35 L524.56,119.60 L524.79,118.85 L525.01,118.10 L525.24,117.35 L525.47,116.60 L525.69,115.85 L525.92,115.10 L526.15,114.35 L526.38,113.60 L526.61,112.85 L526.84,112.10 L527.08,111.35 L527.33,110.60 L527.57,109.85 L527.81,109.10 L528.05,108.35 L528.28,107.60 L528.50,106.85 L528.71,106.10 L528.91,105.35 L529.12,104.60 L529.34,103.85 L529.57,103.10 L529.78,102.35 L529.98,101.60 L530.16,100.85 L530.29,100.10 L530.38,99.35 L530.40,98.60 L530.39,97.85 L530.36,97.10 L530.31,96.35 L530.25,95.60 L530.18,94.85 L530.09,94.10 L530.00,93.35 L529.90,92.60 L529.79,91.85 L529.65,91.10 L529.44,90.35 L529.19,89.60 L528.90,88.85 L528.58,88.10 L528.24,87.35 L527.90,86.60 L527.57,85.85 L527.22,85.10 L526.83,84.35 L526.42,83.60 L525.99,82.85 L525.57,82.10 L525.18,81.35 L524.83,80.60 L524.52,79.85 L524.22,79.10 L523.93,78.35 L523.66,77.60 L523.40,76.85 L523.17,76.10 L522.98,75.35 L522.82,74.60 L522.69,73.85 L522.57,73.10 L522.47,72.35 L522.37,71.60 L522.28,70.85 L522.19,70.10 L522.11,69.35 L522.04,68.60 L521.97,67.85 L521.90,67.10 L521.84,66.35 L521.77,65.60 L521.70,64.85 L521.64,64.10 L521.57,63.35 L521.51,62.60 L521.45,61.85 L521.39,61.10 L521.33,60.35 L521.27,59.60 L521.22,58.85 L521.17,58.10 L521.12,57.35 L521.07,56.60 L521.02,55.85 L520.98,55.10 L520.94,54.35 L520.90,53.60Z" fill="#ADD8E6" stroke="#333333" stroke-width="1.4" stroke-linejoin="round"/>
<line x1="508.30" y1="85.70" x2="527.50" y2="85.70" stroke="#333333" stroke-width="1.4"/>
<line x1="505.40" y1="98.70" x2="530.40" y2="98.70" stroke="#333333" stroke-width="1.4"/>
<line x1="509.30" y1="113.20" x2="526.50" y2="113.20" stroke="#333333" stroke-width="1.4"/>
<rect x="405.6" y="28.7" width="134.89999999999998" height="116.7" fill="none" stroke="#4a4a4a" stroke-width="1.1"/>
<rect x="405.6" y="8.8" width="134.89999999999998" height="19.9" fill="#D9D9D9" stroke="#666" stroke-width="1.0"/>
<text x="473.05" y="23.45" font-size="10.67" fill="#1A1A1A" stroke="#1A1A1A" stroke-width="0.15" text-anchor="middle" font-family="Liberation Sans, Arial, Helvetica, sans-serif">(c) Elevated cover</text>
<line x1="401.90" x2="405.6" y1="127.75" y2="127.75" stroke="#333" stroke-width="1.1"/>
<text x="399.20" y="131.95" font-size="10.67" fill="#4D4D4D" stroke="#4D4D4D" stroke-width="0.18" text-anchor="end" font-family="Liberation Sans, Arial, Helvetica, sans-serif">20</text>
<line x1="401.90" x2="405.6" y1="95.50" y2="95.50" stroke="#333" stroke-width="1.1"/>
<text x="399.20" y="99.70" font-size="10.67" fill="#4D4D4D" stroke="#4D4D4D" stroke-width="0.18" text-anchor="end" font-family="Liberation Sans, Arial, Helvetica, sans-serif">40</text>
<line x1="401.90" x2="405.6" y1="63.25" y2="63.25" stroke="#333" stroke-width="1.1"/>
<text x="399.20" y="67.45" font-size="10.67" fill="#4D4D4D" stroke="#4D4D4D" stroke-width="0.18" text-anchor="end" font-family="Liberation Sans, Arial, Helvetica, sans-serif">60</text>
<line x1="401.90" x2="405.6" y1="31.00" y2="31.00" stroke="#333" stroke-width="1.1"/>
<text x="399.20" y="35.20" font-size="10.67" fill="#4D4D4D" stroke="#4D4D4D" stroke-width="0.18" text-anchor="end" font-family="Liberation Sans, Arial, Helvetica, sans-serif">80</text>
<line x1="442.40" x2="442.40" y1="145.4" y2="149.10" stroke="#333" stroke-width="1.1"/>
<text x="442.40" y="160.20" font-size="10.67" fill="#4D4D4D" stroke="#4D4D4D" stroke-width="0.18" text-anchor="middle" font-family="Liberation Sans, Arial, Helvetica, sans-serif">Interval</text>
<line x1="503.80" x2="503.80" y1="145.4" y2="149.10" stroke="#333" stroke-width="1.1"/>
<text x="503.80" y="160.20" font-size="10.67" fill="#4D4D4D" stroke="#4D4D4D" stroke-width="0.18" text-anchor="middle" font-family="Liberation Sans, Arial, Helvetica, sans-serif">Severity</text>
<text x="473.05" y="174.50" font-size="13.2" fill="#000" stroke="#000" stroke-width="0.2" text-anchor="middle" font-family="Liberation Sans, Arial, Helvetica, sans-serif">Fire</text>
<text transform="translate(380.5,87.05) rotate(-90)" font-size="13.33" fill="#000" stroke="#000" stroke-width="0.2" text-anchor="middle" font-family="Liberation Sans, Arial, Helvetica, sans-serif">Cover (%)</text>
<rect x="41" y="211.3" width="134.9" height="116.69999999999999" fill="#fff"/>
<line x1="41" x2="175.9" y1="302.50" y2="302.50" stroke="#EBEBEB" stroke-width="0.7"/>
<line x1="41" x2="175.9" y1="261.50" y2="261.50" stroke="#EBEBEB" stroke-width="0.7"/>
<line x1="41" x2="175.9" y1="220.50" y2="220.50" stroke="#EBEBEB" stroke-width="0.7"/>
<line x1="41" x2="175.9" y1="323.00" y2="323.00" stroke="#ECECEC" stroke-width="1.2"/>
<line x1="41" x2="175.9" y1="282.00" y2="282.00" stroke="#ECECEC" stroke-width="1.2"/>
<line x1="41" x2="175.9" y1="241.00" y2="241.00" stroke="#ECECEC" stroke-width="1.2"/>
<line x1="77.80" x2="77.80" y1="211.3" y2="328" stroke="#ECECEC" stroke-width="1.2"/>
<line x1="139.40" x2="139.40" y1="211.3" y2="328" stroke="#ECECEC" stroke-width="1.2"/>
<path d="M77.40,216.60 L77.42,217.35 L77.44,218.10 L77.45,218.85 L77.47,219.60 L77.49,220.35 L77.50,221.10 L77.50,221.85 L77.50,222.60 L77.50,223.35 L77.50,224.10 L77.50,224.85 L77.50,225.60 L77.50,226.35 L77.50,227.10 L77.50,227.85 L77.50,228.60 L77.50,229.35 L77.50,230.10 L77.50,230.85 L77.50,231.60 L77.50,232.35 L77.50,233.10 L77.50,233.85 L77.50,234.60 L77.50,235.35 L77.50,236.10 L77.50,236.85 L77.50,237.60 L77.50,238.35 L77.50,239.10 L77.50,239.85 L77.50,240.60 L77.50,241.35 L77.50,242.10 L77.50,242.85 L77.50,243.60 L77.50,244.35 L77.50,245.10 L77.49,245.85 L77.48,246.60 L77.46,247.35 L77.44,248.10 L77.41,248.85 L77.37,249.60 L77.34,250.35 L77.29,251.10 L77.24,251.85 L77.15,252.60 L77.04,253.35 L76.92,254.10 L76.78,254.85 L76.62,255.60 L76.46,256.35 L76.29,257.10 L76.12,257.85 L75.90,258.60 L75.66,259.35 L75.39,260.10 L75.11,260.85 L74.82,261.60 L74.54,262.35 L74.27,263.10 L74.01,263.85 L73.75,264.60 L73.48,265.35 L73.21,266.10 L72.94,266.85 L72.68,267.60 L72.44,268.35 L72.20,269.10 L71.99,269.85 L71.79,270.60 L71.62,271.35 L71.48,272.10 L71.34,272.85 L71.22,273.60 L71.10,274.35 L70.99,275.10 L70.88,275.85 L70.77,276.60 L70.65,277.35 L70.53,278.10 L70.39,278.85 L70.23,279.60 L70.06,280.35 L69.88,281.10 L69.70,281.85 L69.52,282.60 L69.35,283.35 L69.19,284.10 L69.06,284.85 L68.93,285.60 L68.81,286.35 L68.69,287.10 L68.58,287.85 L68.47,288.60 L68.36,289.35 L68.27,290.10 L68.17,290.85 L68.08,291.60 L67.99,292.35 L67.92,293.10 L67.85,293.85 L67.79,294.60 L67.74,295.35 L67.68,296.10 L67.61,296.85 L67.54,297.60 L67.45,298.35 L67.34,299.10 L67.19,299.85 L67.00,300.60 L66.79,301.35 L66.57,302.10 L66.28,302.85 L65.94,303.60 L65.58,304.35 L65.25,305.10 L64.98,305.85 L64.75,306.60 L64.52,307.35 L64.29,308.10 L64.08,308.85 L63.90,309.60 L63.75,310.35 L63.65,311.10 L63.60,311.85 L63.61,312.60 L63.64,313.35 L63.69,314.10 L63.75,314.85 L63.82,315.60 L63.89,316.35 L63.97,317.10 L64.04,317.85 L64.11,318.60 L64.19,319.35 L64.31,320.10 L64.46,320.85 L64.84,321.60 L65.62,322.35 L66.30,322.90 L89.10,322.90 L89.78,322.35 L90.56,321.60 L90.94,320.85 L91.09,320.10 L91.21,319.35 L91.29,318.60 L91.36,317.85 L91.43,317.10 L91.51,316.35 L91.58,315.60 L91.65,314.85 L91.71,314.10 L91.76,313.35 L91.79,312.60 L91.80,311.85 L91.75,311.10 L91.65,310.35 L91.50,309.60 L91.32,308.85 L91.11,308.10 L90.88,307.35 L90.65,306.60 L90.42,305.85 L90.15,305.10 L89.82,304.35 L89.46,303.60 L89.12,302.85 L88.83,302.10 L88.61,301.35 L88.40,300.60 L88.21,299.85 L88.06,299.10 L87.95,298.35 L87.86,297.60 L87.79,296.85 L87.72,296.10 L87.66,295.35 L87.61,294.60 L87.55,293.85 L87.48,293.10 L87.41,292.35 L87.32,291.60 L87.23,290.85 L87.13,290.10 L87.04,289.35 L86.93,288.60 L86.82,287.85 L86.71,287.10 L86.59,286.35 L86.47,285.60 L86.34,284.85 L86.21,284.10 L86.05,283.35 L85.88,282.60 L85.70,281.85 L85.52,281.10 L85.34,280.35 L85.17,279.60 L85.01,278.85 L84.87,278.10 L84.75,277.35 L84.63,276.60 L84.52,275.85 L84.41,275.10 L84.30,274.35 L84.18,273.60 L84.06,272.85 L83.92,272.10 L83.78,271.35 L83.61,270.60 L83.41,269.85 L83.20,269.10 L82.96,268.35 L82.72,267.60 L82.46,266.85 L82.19,266.10 L81.92,265.35 L81.65,264.60 L81.39,263.85 L81.13,263.10 L80.86,262.35 L80.58,261.60 L80.29,260.85 L80.01,260.10 L79.74,259.35 L79.50,258.60 L79.28,257.85 L79.11,257.10 L78.94,256.35 L78.78,255.60 L78.62,254.85 L78.48,254.10 L78.36,253.35 L78.25,252.60 L78.16,251.85 L78.11,251.10 L78.06,250.35 L78.03,249.60 L77.99,248.85 L77.96,248.10 L77.94,247.35 L77.92,246.60 L77.91,245.85 L77.90,245.10 L77.90,244.35 L77.90,243.60 L77.90,242.85 L77.90,242.10 L77.90,241.35 L77.90,240.60 L77.90,239.85 L77.90,239.10 L77.90,238.35 L77.90,237.60 L77.90,236.85 L77.90,236.10 L77.90,235.35 L77.90,234.60 L77.90,233.85 L77.90,233.10 L77.90,232.35 L77.90,231.60 L77.90,230.85 L77.90,230.10 L77.90,229.35 L77.90,228.60 L77.90,227.85 L77.90,227.10 L77.90,226.35 L77.90,225.60 L77.90,224.85 L77.90,224.10 L77.90,223.35 L77.90,222.60 L77.90,221.85 L77.90,221.10 L77.91,220.35 L77.93,219.60 L77.95,218.85 L77.96,218.10 L77.98,217.35 L78.00,216.60Z" fill="#90EE90" stroke="#333333" stroke-width="1.4" stroke-linejoin="round"/>
<line x1="69.10" y1="284.60" x2="86.30" y2="284.60" stroke="#333333" stroke-width="1.4"/>
<line x1="67.39" y1="298.80" x2="88.01" y2="298.80" stroke="#333333" stroke-width="1.4"/>
<line x1="63.60" y1="312.00" x2="91.80" y2="312.00" stroke="#333333" stroke-width="1.4"/>
<path d="M138.50,273.60 L138.50,274.35 L138.50,275.10 L138.50,275.85 L138.48,276.60 L138.40,277.35 L138.28,278.10 L138.08,278.85 L137.64,279.60 L137.20,280.35 L136.78,281.10 L136.34,281.85 L135.87,282.60 L135.34,283.35 L134.72,284.10 L134.06,284.85 L133.42,285.60 L132.83,286.35 L132.21,287.10 L131.64,287.85 L131.17,288.60 L130.88,289.35 L130.63,290.10 L130.43,290.85 L130.32,291.60 L130.31,292.35 L130.36,293.10 L130.46,293.85 L130.57,294.60 L130.70,295.35 L130.82,296.10 L130.96,296.85 L131.13,297.60 L131.26,298.35 L131.30,299.10 L131.28,299.85 L131.23,300.60 L131.13,301.35 L130.76,302.10 L130.18,302.85 L129.48,303.60 L128.73,304.35 L127.74,305.10 L126.56,305.85 L125.30,306.60 L124.06,307.35 L122.96,308.10 L121.96,308.85 L120.99,309.60 L120.05,310.35 L119.14,311.10 L118.27,311.85 L117.40,312.60 L116.47,313.35 L115.53,314.10 L114.62,314.85 L113.81,315.60 L113.12,316.35 L112.61,317.10 L112.32,317.85 L112.10,318.60 L111.95,319.35 L111.90,320.10 L112.00,320.85 L112.23,321.60 L112.69,322.35 L113.91,323.10 L114.10,323.20 L164.30,323.20 L164.49,323.10 L165.71,322.35 L166.17,321.60 L166.40,320.85 L166.50,320.10 L166.45,319.35 L166.30,318.60 L166.08,317.85 L165.79,317.10 L165.28,316.35 L164.59,315.60 L163.78,314.85 L162.87,314.10 L161.93,313.35 L161.00,312.60 L160.13,311.85 L159.26,311.10 L158.35,310.35 L157.41,309.60 L156.44,308.85 L155.44,308.10 L154.34,307.35 L153.10,306.60 L151.84,305.85 L150.66,305.10 L149.67,304.35 L148.92,303.60 L148.22,302.85 L147.64,302.10 L147.27,301.35 L147.17,300.60 L147.12,299.85 L147.10,299.10 L147.14,298.35 L147.27,297.60 L147.44,296.85 L147.58,296.10 L147.70,295.35 L147.83,294.60 L147.94,293.85 L148.04,293.10 L148.09,292.35 L148.08,291.60 L147.97,290.85 L147.77,290.10 L147.52,289.35 L147.23,288.60 L146.76,287.85 L146.19,287.10 L145.57,286.35 L144.98,285.60 L144.34,284.85 L143.68,284.10 L143.06,283.35 L142.53,282.60 L142.06,281.85 L141.62,281.10 L141.20,280.35 L140.76,279.60 L140.32,278.85 L140.12,278.10 L140.00,277.35 L139.92,276.60 L139.90,275.85 L139.90,275.10 L139.90,274.35 L139.90,273.60Z" fill="#A8292B" stroke="#333333" stroke-width="1.4" stroke-linejoin="round"/>
<line x1="131.20" y1="301.00" x2="147.20" y2="301.00" stroke="#333333" stroke-width="1.4"/>
<line x1="118.10" y1="312.00" x2="160.30" y2="312.00" stroke="#333333" stroke-width="1.4"/>
<line x1="112.40" y1="317.60" x2="166.00" y2="317.60" stroke="#333333" stroke-width="1.4"/>
<rect x="41" y="211.3" width="134.9" height="116.69999999999999" fill="none" stroke="#4a4a4a" stroke-width="1.1"/>
<rect x="41" y="191.5" width="134.9" height="19.80000000000001" fill="#D9D9D9" stroke="#666" stroke-width="1.0"/>
<text x="108.45" y="206.10" font-size="10.67" fill="#1A1A1A" stroke="#1A1A1A" stroke-width="0.15" text-anchor="middle" font-family="Liberation Sans, Arial, Helvetica, sans-serif">(d) Elevated connectivity</text>
<line x1="37.30" x2="41" y1="323.00" y2="323.00" stroke="#333" stroke-width="1.1"/>
<text x="34.60" y="327.20" font-size="10.67" fill="#4D4D4D" stroke="#4D4D4D" stroke-width="0.18" text-anchor="end" font-family="Liberation Sans, Arial, Helvetica, sans-serif">0</text>
<line x1="37.30" x2="41" y1="282.00" y2="282.00" stroke="#333" stroke-width="1.1"/>
<text x="34.60" y="286.20" font-size="10.67" fill="#4D4D4D" stroke="#4D4D4D" stroke-width="0.18" text-anchor="end" font-family="Liberation Sans, Arial, Helvetica, sans-serif">10</text>
<line x1="37.30" x2="41" y1="241.00" y2="241.00" stroke="#333" stroke-width="1.1"/>
<text x="34.60" y="245.20" font-size="10.67" fill="#4D4D4D" stroke="#4D4D4D" stroke-width="0.18" text-anchor="end" font-family="Liberation Sans, Arial, Helvetica, sans-serif">20</text>
<line x1="77.80" x2="77.80" y1="328" y2="331.70" stroke="#333" stroke-width="1.1"/>
<text x="77.80" y="342.80" font-size="10.67" fill="#4D4D4D" stroke="#4D4D4D" stroke-width="0.18" text-anchor="middle" font-family="Liberation Sans, Arial, Helvetica, sans-serif">Long</text>
<line x1="139.40" x2="139.40" y1="328" y2="331.70" stroke="#333" stroke-width="1.1"/>
<text x="139.40" y="342.80" font-size="10.67" fill="#4D4D4D" stroke="#4D4D4D" stroke-width="0.18" text-anchor="middle" font-family="Liberation Sans, Arial, Helvetica, sans-serif">Short</text>
<text x="108.45" y="357.10" font-size="13.2" fill="#000" stroke="#000" stroke-width="0.2" text-anchor="middle" font-family="Liberation Sans, Arial, Helvetica, sans-serif">Fire interval</text>
<text transform="translate(16.2,269.65) rotate(-90)" font-size="13.33" fill="#000" stroke="#000" stroke-width="0.2" text-anchor="middle" font-family="Liberation Sans, Arial, Helvetica, sans-serif">Cover (%)</text>
<rect x="229.2" y="211.3" width="129.2" height="116.69999999999999" fill="#fff"/>
<line x1="229.2" x2="358.4" y1="309.44" y2="309.44" stroke="#EBEBEB" stroke-width="0.7"/>
<line x1="229.2" x2="358.4" y1="282.31" y2="282.31" stroke="#EBEBEB" stroke-width="0.7"/>
<line x1="229.2" x2="358.4" y1="255.19" y2="255.19" stroke="#EBEBEB" stroke-width="0.7"/>
<line x1="229.2" x2="358.4" y1="228.06" y2="228.06" stroke="#EBEBEB" stroke-width="0.7"/>
<line x1="229.2" x2="358.4" y1="323.00" y2="323.00" stroke="#ECECEC" stroke-width="1.2"/>
<line x1="229.2" x2="358.4" y1="295.88" y2="295.88" stroke="#ECECEC" stroke-width="1.2"/>
<line x1="229.2" x2="358.4" y1="268.75" y2="268.75" stroke="#ECECEC" stroke-width="1.2"/>
<line x1="229.2" x2="358.4" y1="241.62" y2="241.62" stroke="#ECECEC" stroke-width="1.2"/>
<line x1="229.2" x2="358.4" y1="214.50" y2="214.50" stroke="#ECECEC" stroke-width="1.2"/>
<line x1="264.40" x2="264.40" y1="211.3" y2="328" stroke="#ECECEC" stroke-width="1.2"/>
<line x1="323.20" x2="323.20" y1="211.3" y2="328" stroke="#ECECEC" stroke-width="1.2"/>
<path d="M261.90,216.50 L261.83,217.25 L261.75,218.00 L261.65,218.75 L261.54,219.50 L261.42,220.25 L261.28,221.00 L261.13,221.75 L260.97,222.50 L260.81,223.25 L260.64,224.00 L260.46,224.75 L260.27,225.50 L260.05,226.25 L259.81,227.00 L259.54,227.75 L259.26,228.50 L258.97,229.25 L258.67,230.00 L258.36,230.75 L258.04,231.50 L257.72,232.25 L257.39,233.00 L257.03,233.75 L256.66,234.50 L256.27,235.25 L255.87,236.00 L255.46,236.75 L255.05,237.50 L254.65,238.25 L254.25,239.00 L253.87,239.75 L253.51,240.50 L253.16,241.25 L252.82,242.00 L252.48,242.75 L252.15,243.50 L251.83,244.25 L251.51,245.00 L251.18,245.75 L250.86,246.50 L250.53,247.25 L250.19,248.00 L249.85,248.75 L249.50,249.50 L249.13,250.25 L248.76,251.00 L248.36,251.75 L247.93,252.50 L247.47,253.25 L246.99,254.00 L246.51,254.75 L246.02,255.50 L245.53,256.25 L245.05,257.00 L244.60,257.75 L244.17,258.50 L243.77,259.25 L243.41,260.00 L243.04,260.75 L242.68,261.50 L242.34,262.25 L242.00,263.00 L241.70,263.75 L241.41,264.50 L241.16,265.25 L240.95,266.00 L240.76,266.75 L240.58,267.50 L240.41,268.25 L240.28,269.00 L240.21,269.75 L240.22,270.50 L240.35,271.25 L240.59,272.00 L240.89,272.75 L241.23,273.50 L241.59,274.25 L241.95,275.00 L242.38,275.75 L242.88,276.50 L243.42,277.25 L243.98,278.00 L244.56,278.75 L245.16,279.50 L245.79,280.25 L246.46,281.00 L247.16,281.75 L247.87,282.50 L248.60,283.25 L249.33,284.00 L250.05,284.75 L250.77,285.50 L251.47,286.25 L252.16,287.00 L252.86,287.75 L253.57,288.50 L254.28,289.25 L254.99,290.00 L255.69,290.75 L256.37,291.50 L257.03,292.25 L257.67,293.00 L258.26,293.75 L258.82,294.50 L259.36,295.25 L259.88,296.00 L260.37,296.75 L260.80,297.50 L261.17,298.25 L261.52,299.00 L261.84,299.75 L262.13,300.50 L262.36,301.25 L262.50,302.00 L262.59,302.75 L262.67,303.50 L262.74,304.25 L262.80,305.00 L262.86,305.75 L262.91,306.50 L262.94,307.25 L262.97,308.00 L262.99,308.75 L263.00,309.50 L263.00,310.25 L263.00,311.00 L263.00,311.75 L263.00,312.50 L263.00,313.25 L263.00,314.00 L263.00,314.75 L263.00,315.50 L263.00,316.25 L263.00,317.00 L263.00,317.75 L263.00,318.50 L263.00,319.25 L262.98,320.00 L262.91,320.75 L262.80,321.50 L262.67,322.25 L262.53,323.00 L262.50,323.20 L266.10,323.20 L266.07,323.00 L265.93,322.25 L265.80,321.50 L265.69,320.75 L265.62,320.00 L265.60,319.25 L265.60,318.50 L265.60,317.75 L265.60,317.00 L265.60,316.25 L265.60,315.50 L265.60,314.75 L265.60,314.00 L265.60,313.25 L265.60,312.50 L265.60,311.75 L265.60,311.00 L265.60,310.25 L265.60,309.50 L265.61,308.75 L265.63,308.00 L265.66,307.25 L265.69,306.50 L265.74,305.75 L265.80,305.00 L265.86,304.25 L265.93,303.50 L266.01,302.75 L266.10,302.00 L266.24,301.25 L266.47,300.50 L266.76,299.75 L267.08,299.00 L267.43,298.25 L267.80,297.50 L268.23,296.75 L268.72,296.00 L269.24,295.25 L269.78,294.50 L270.34,293.75 L270.93,293.00 L271.57,292.25 L272.23,291.50 L272.91,290.75 L273.61,290.00 L274.32,289.25 L275.03,288.50 L275.74,287.75 L276.44,287.00 L277.13,286.25 L277.83,285.50 L278.55,284.75 L279.27,284.00 L280.00,283.25 L280.73,282.50 L281.44,281.75 L282.14,281.00 L282.81,280.25 L283.44,279.50 L284.04,278.75 L284.62,278.00 L285.18,277.25 L285.72,276.50 L286.22,275.75 L286.65,275.00 L287.01,274.25 L287.37,273.50 L287.71,272.75 L288.01,272.00 L288.25,271.25 L288.38,270.50 L288.39,269.75 L288.32,269.00 L288.19,268.25 L288.02,267.50 L287.84,266.75 L287.65,266.00 L287.44,265.25 L287.19,264.50 L286.90,263.75 L286.60,263.00 L286.26,262.25 L285.92,261.50 L285.56,260.75 L285.19,260.00 L284.83,259.25 L284.43,258.50 L284.00,257.75 L283.55,257.00 L283.07,256.25 L282.58,255.50 L282.09,254.75 L281.61,254.00 L281.13,253.25 L280.67,252.50 L280.24,251.75 L279.84,251.00 L279.47,250.25 L279.10,249.50 L278.75,248.75 L278.41,248.00 L278.07,247.25 L277.74,246.50 L277.42,245.75 L277.09,245.00 L276.77,244.25 L276.45,243.50 L276.12,242.75 L275.78,242.00 L275.44,241.25 L275.09,240.50 L274.73,239.75 L274.35,239.00 L273.95,238.25 L273.55,237.50 L273.14,236.75 L272.73,236.00 L272.33,235.25 L271.94,234.50 L271.57,233.75 L271.21,233.00 L270.88,232.25 L270.56,231.50 L270.24,230.75 L269.93,230.00 L269.63,229.25 L269.34,228.50 L269.06,227.75 L268.79,227.00 L268.55,226.25 L268.33,225.50 L268.14,224.75 L267.96,224.00 L267.79,223.25 L267.63,222.50 L267.47,221.75 L267.32,221.00 L267.18,220.25 L267.06,219.50 L266.95,218.75 L266.85,218.00 L266.77,217.25 L266.70,216.50Z" fill="#90EE90" stroke="#333333" stroke-width="1.4" stroke-linejoin="round"/>
<line x1="248.55" y1="251.40" x2="280.05" y2="251.40" stroke="#333333" stroke-width="1.4"/>
<line x1="240.85" y1="266.40" x2="287.75" y2="266.40" stroke="#333333" stroke-width="1.4"/>
<line x1="244.45" y1="278.60" x2="284.15" y2="278.60" stroke="#333333" stroke-width="1.4"/>
<path d="M321.70,239.40 L321.66,240.15 L321.57,240.90 L321.46,241.65 L321.32,242.40 L321.10,243.15 L320.84,243.90 L320.56,244.65 L320.27,245.40 L319.95,246.15 L319.59,246.90 L319.20,247.65 L318.76,248.40 L318.25,249.15 L317.69,249.90 L317.07,250.65 L316.41,251.40 L315.71,252.15 L314.99,252.90 L314.25,253.65 L313.49,254.40 L312.67,255.15 L311.79,255.90 L310.87,256.65 L309.92,257.40 L308.95,258.15 L307.99,258.90 L307.04,259.65 L306.10,260.40 L305.12,261.15 L304.14,261.90 L303.17,262.65 L302.26,263.40 L301.44,264.15 L300.64,264.90 L299.84,265.65 L299.11,266.40 L298.49,267.15 L298.04,267.90 L297.73,268.65 L297.44,269.40 L297.19,270.15 L297.01,270.90 L296.91,271.65 L296.93,272.40 L297.14,273.15 L297.47,273.90 L297.84,274.65 L298.20,275.40 L298.67,276.15 L299.17,276.90 L299.64,277.65 L299.98,278.40 L300.29,279.15 L300.59,279.90 L300.86,280.65 L301.08,281.40 L301.23,282.15 L301.30,282.90 L301.28,283.65 L301.21,284.40 L301.10,285.15 L300.98,285.90 L300.85,286.65 L300.73,287.40 L300.57,288.15 L300.40,288.90 L300.27,289.65 L300.20,290.40 L300.21,291.15 L300.23,291.90 L300.27,292.65 L300.32,293.40 L300.38,294.15 L300.46,294.90 L300.55,295.65 L300.68,296.40 L300.98,297.15 L301.42,297.90 L301.97,298.65 L302.58,299.40 L303.23,300.15 L304.03,300.90 L305.00,301.65 L306.12,302.40 L307.36,303.15 L308.92,303.90 L310.10,304.40 L336.30,304.40 L337.48,303.90 L339.04,303.15 L340.28,302.40 L341.40,301.65 L342.37,300.90 L343.17,300.15 L343.82,299.40 L344.43,298.65 L344.98,297.90 L345.42,297.15 L345.72,296.40 L345.85,295.65 L345.94,294.90 L346.02,294.15 L346.08,293.40 L346.13,292.65 L346.17,291.90 L346.19,291.15 L346.20,290.40 L346.13,289.65 L346.00,288.90 L345.83,288.15 L345.67,287.40 L345.55,286.65 L345.42,285.90 L345.30,285.15 L345.19,284.40 L345.12,283.65 L345.10,282.90 L345.17,282.15 L345.32,281.40 L345.54,280.65 L345.81,279.90 L346.11,279.15 L346.42,278.40 L346.76,277.65 L347.23,276.90 L347.73,276.15 L348.20,275.40 L348.56,274.65 L348.93,273.90 L349.26,273.15 L349.47,272.40 L349.49,271.65 L349.39,270.90 L349.21,270.15 L348.96,269.40 L348.67,268.65 L348.36,267.90 L347.91,267.15 L347.29,266.40 L346.56,265.65 L345.76,264.90 L344.96,264.15 L344.14,263.40 L343.23,262.65 L342.26,261.90 L341.28,261.15 L340.30,260.40 L339.36,259.65 L338.41,258.90 L337.45,258.15 L336.48,257.40 L335.53,256.65 L334.61,255.90 L333.73,255.15 L332.91,254.40 L332.15,253.65 L331.41,252.90 L330.69,252.15 L329.99,251.40 L329.33,250.65 L328.71,249.90 L328.15,249.15 L327.64,248.40 L327.20,247.65 L326.81,246.90 L326.45,246.15 L326.13,245.40 L325.84,244.65 L325.56,243.90 L325.30,243.15 L325.08,242.40 L324.94,241.65 L324.83,240.90 L324.74,240.15 L324.70,239.40Z" fill="#A8292B" stroke="#333333" stroke-width="1.4" stroke-linejoin="round"/>
<line x1="298.09" y1="267.80" x2="348.31" y2="267.80" stroke="#333333" stroke-width="1.4"/>
<line x1="299.90" y1="278.20" x2="346.50" y2="278.20" stroke="#333333" stroke-width="1.4"/>
<line x1="300.20" y1="290.50" x2="346.20" y2="290.50" stroke="#333333" stroke-width="1.4"/>
<rect x="229.2" y="211.3" width="129.2" height="116.69999999999999" fill="none" stroke="#4a4a4a" stroke-width="1.1"/>
<rect x="229.2" y="191.5" width="129.2" height="19.80000000000001" fill="#D9D9D9" stroke="#666" stroke-width="1.0"/>
<text x="293.80" y="206.10" font-size="10.67" fill="#1A1A1A" stroke="#1A1A1A" stroke-width="0.15" text-anchor="middle" font-family="Liberation Sans, Arial, Helvetica, sans-serif">(e) Elevated height</text>
<line x1="225.50" x2="229.2" y1="323.00" y2="323.00" stroke="#333" stroke-width="1.1"/>
<text x="222.80" y="327.20" font-size="10.67" fill="#4D4D4D" stroke="#4D4D4D" stroke-width="0.18" text-anchor="end" font-family="Liberation Sans, Arial, Helvetica, sans-serif">0</text>
<line x1="225.50" x2="229.2" y1="295.88" y2="295.88" stroke="#333" stroke-width="1.1"/>
<text x="222.80" y="300.07" font-size="10.67" fill="#4D4D4D" stroke="#4D4D4D" stroke-width="0.18" text-anchor="end" font-family="Liberation Sans, Arial, Helvetica, sans-serif">50</text>
<line x1="225.50" x2="229.2" y1="268.75" y2="268.75" stroke="#333" stroke-width="1.1"/>
<text x="222.80" y="272.95" font-size="10.67" fill="#4D4D4D" stroke="#4D4D4D" stroke-width="0.18" text-anchor="end" font-family="Liberation Sans, Arial, Helvetica, sans-serif">100</text>
<line x1="225.50" x2="229.2" y1="241.62" y2="241.62" stroke="#333" stroke-width="1.1"/>
<text x="222.80" y="245.82" font-size="10.67" fill="#4D4D4D" stroke="#4D4D4D" stroke-width="0.18" text-anchor="end" font-family="Liberation Sans, Arial, Helvetica, sans-serif">150</text>
<line x1="225.50" x2="229.2" y1="214.50" y2="214.50" stroke="#333" stroke-width="1.1"/>
<text x="222.80" y="218.70" font-size="10.67" fill="#4D4D4D" stroke="#4D4D4D" stroke-width="0.18" text-anchor="end" font-family="Liberation Sans, Arial, Helvetica, sans-serif">200</text>
<line x1="264.40" x2="264.40" y1="328" y2="331.70" stroke="#333" stroke-width="1.1"/>
<text x="264.40" y="342.80" font-size="10.67" fill="#4D4D4D" stroke="#4D4D4D" stroke-width="0.18" text-anchor="middle" font-family="Liberation Sans, Arial, Helvetica, sans-serif">Long</text>
<line x1="323.20" x2="323.20" y1="328" y2="331.70" stroke="#333" stroke-width="1.1"/>
<text x="323.20" y="342.80" font-size="10.67" fill="#4D4D4D" stroke="#4D4D4D" stroke-width="0.18" text-anchor="middle" font-family="Liberation Sans, Arial, Helvetica, sans-serif">Short</text>
<text x="293.80" y="357.10" font-size="13.2" fill="#000" stroke="#000" stroke-width="0.2" text-anchor="middle" font-family="Liberation Sans, Arial, Helvetica, sans-serif">Fire interval</text>
<text transform="translate(198.6,269.65) rotate(-90)" font-size="13.33" fill="#000" stroke="#000" stroke-width="0.2" text-anchor="middle" textLength="134.2" font-family="Liberation Sans, Arial, Helvetica, sans-serif">Mean max. height (cm)</text>
<rect x="405.6" y="211.3" width="134.89999999999998" height="116.69999999999999" fill="#fff"/>
<line x1="405.6" x2="540.5" y1="302.50" y2="302.50" stroke="#EBEBEB" stroke-width="0.7"/>
<line x1="405.6" x2="540.5" y1="261.50" y2="261.50" stroke="#EBEBEB" stroke-width="0.7"/>
<line x1="405.6" x2="540.5" y1="220.50" y2="220.50" stroke="#EBEBEB" stroke-width="0.7"/>
<line x1="405.6" x2="540.5" y1="323.00" y2="323.00" stroke="#ECECEC" stroke-width="1.2"/>
<line x1="405.6" x2="540.5" y1="282.00" y2="282.00" stroke="#ECECEC" stroke-width="1.2"/>
<line x1="405.6" x2="540.5" y1="241.00" y2="241.00" stroke="#ECECEC" stroke-width="1.2"/>
<line x1="442.40" x2="442.40" y1="211.3" y2="328" stroke="#ECECEC" stroke-width="1.2"/>
<line x1="503.80" x2="503.80" y1="211.3" y2="328" stroke="#ECECEC" stroke-width="1.2"/>
<path d="M428.20,216.60 L428.20,217.35 L428.20,218.10 L428.20,218.85 L428.20,219.60 L428.20,220.35 L428.20,221.10 L428.20,221.85 L428.20,222.60 L428.20,223.35 L428.20,224.10 L428.20,224.85 L428.20,225.60 L428.20,226.35 L428.20,227.10 L428.20,227.85 L428.20,228.60 L428.20,229.35 L428.19,230.10 L428.19,230.85 L428.19,231.60 L428.19,232.35 L428.19,233.10 L428.19,233.85 L428.19,234.60 L428.19,235.35 L428.19,236.10 L428.19,236.85 L428.19,237.60 L428.19,238.35 L428.18,239.10 L428.18,239.85 L428.18,240.60 L428.18,241.35 L428.18,242.10 L428.18,242.85 L428.18,243.60 L428.18,244.35 L428.17,245.10 L428.17,245.85 L428.17,246.60 L428.17,247.35 L428.17,248.10 L428.17,248.85 L428.16,249.60 L428.16,250.35 L428.16,251.10 L428.16,251.85 L428.16,252.60 L428.15,253.35 L428.15,254.10 L428.15,254.85 L428.15,255.60 L428.14,256.35 L428.14,257.10 L428.13,257.85 L428.12,258.60 L428.11,259.35 L428.10,260.10 L428.09,260.85 L428.07,261.60 L428.06,262.35 L428.04,263.10 L428.03,263.85 L428.01,264.60 L427.99,265.35 L427.97,266.10 L427.94,266.85 L427.90,267.60 L427.87,268.35 L427.83,269.10 L427.79,269.85 L427.76,270.60 L427.73,271.35 L427.70,272.10 L427.67,272.85 L427.65,273.60 L427.62,274.35 L427.60,275.10 L427.58,275.85 L427.56,276.60 L427.54,277.35 L427.52,278.10 L427.49,278.85 L427.47,279.60 L427.45,280.35 L427.42,281.10 L427.40,281.85 L427.37,282.60 L427.34,283.35 L427.31,284.10 L427.28,284.85 L427.25,285.60 L427.22,286.35 L427.19,287.10 L427.16,287.85 L427.13,288.60 L427.09,289.35 L427.06,290.10 L427.03,290.85 L426.99,291.60 L426.96,292.35 L426.92,293.10 L426.89,293.85 L426.86,294.60 L426.83,295.35 L426.80,296.10 L426.77,296.85 L426.75,297.60 L426.71,298.35 L426.68,299.10 L426.64,299.85 L426.59,300.60 L426.53,301.35 L426.45,302.10 L426.32,302.85 L426.14,303.60 L425.93,304.35 L425.71,305.10 L425.50,305.85 L425.26,306.60 L425.00,307.35 L424.73,308.10 L424.48,308.85 L424.22,309.60 L423.96,310.35 L423.72,311.10 L423.54,311.85 L423.38,312.60 L423.21,313.35 L423.06,314.10 L422.92,314.85 L422.81,315.60 L422.74,316.35 L422.70,317.10 L422.71,317.85 L422.73,318.60 L422.77,319.35 L422.83,320.10 L422.91,320.85 L423.07,321.60 L423.38,322.35 L423.98,323.10 L424.20,323.30 L432.40,323.30 L432.62,323.10 L433.22,322.35 L433.53,321.60 L433.69,320.85 L433.77,320.10 L433.83,319.35 L433.87,318.60 L433.89,317.85 L433.90,317.10 L433.86,316.35 L433.79,315.60 L433.68,314.85 L433.54,314.10 L433.39,313.35 L433.22,312.60 L433.06,311.85 L432.88,311.10 L432.64,310.35 L432.38,309.60 L432.12,308.85 L431.87,308.10 L431.60,307.35 L431.34,306.60 L431.10,305.85 L430.89,305.10 L430.67,304.35 L430.46,303.60 L430.28,302.85 L430.15,302.10 L430.07,301.35 L430.01,300.60 L429.96,299.85 L429.92,299.10 L429.89,298.35 L429.85,297.60 L429.83,296.85 L429.80,296.10 L429.77,295.35 L429.74,294.60 L429.71,293.85 L429.68,293.10 L429.64,292.35 L429.61,291.60 L429.57,290.85 L429.54,290.10 L429.51,289.35 L429.47,288.60 L429.44,287.85 L429.41,287.10 L429.38,286.35 L429.35,285.60 L429.32,284.85 L429.29,284.10 L429.26,283.35 L429.23,282.60 L429.20,281.85 L429.18,281.10 L429.15,280.35 L429.13,279.60 L429.11,278.85 L429.08,278.10 L429.06,277.35 L429.04,276.60 L429.02,275.85 L429.00,275.10 L428.98,274.35 L428.95,273.60 L428.93,272.85 L428.90,272.10 L428.87,271.35 L428.84,270.60 L428.81,269.85 L428.77,269.10 L428.73,268.35 L428.70,267.60 L428.66,266.85 L428.63,266.10 L428.61,265.35 L428.59,264.60 L428.57,263.85 L428.56,263.10 L428.54,262.35 L428.53,261.60 L428.51,260.85 L428.50,260.10 L428.49,259.35 L428.48,258.60 L428.47,257.85 L428.46,257.10 L428.46,256.35 L428.45,255.60 L428.45,254.85 L428.45,254.10 L428.45,253.35 L428.44,252.60 L428.44,251.85 L428.44,251.10 L428.44,250.35 L428.44,249.60 L428.43,248.85 L428.43,248.10 L428.43,247.35 L428.43,246.60 L428.43,245.85 L428.43,245.10 L428.42,244.35 L428.42,243.60 L428.42,242.85 L428.42,242.10 L428.42,241.35 L428.42,240.60 L428.42,239.85 L428.42,239.10 L428.41,238.35 L428.41,237.60 L428.41,236.85 L428.41,236.10 L428.41,235.35 L428.41,234.60 L428.41,233.85 L428.41,233.10 L428.41,232.35 L428.41,231.60 L428.41,230.85 L428.41,230.10 L428.40,229.35 L428.40,228.60 L428.40,227.85 L428.40,227.10 L428.40,226.35 L428.40,225.60 L428.40,224.85 L428.40,224.10 L428.40,223.35 L428.40,222.60 L428.40,221.85 L428.40,221.10 L428.40,220.35 L428.40,219.60 L428.40,218.85 L428.40,218.10 L428.40,217.35 L428.40,216.60Z" fill="#90EE90" stroke="#333333" stroke-width="1.4" stroke-linejoin="round"/>
<line x1="426.50" y1="301.70" x2="430.10" y2="301.70" stroke="#333333" stroke-width="1.4"/>
<line x1="423.60" y1="311.60" x2="433.00" y2="311.60" stroke="#333333" stroke-width="1.4"/>
<line x1="422.70" y1="317.30" x2="433.90" y2="317.30" stroke="#333333" stroke-width="1.4"/>
<path d="M456.00,273.50 L456.00,274.25 L456.00,275.00 L456.00,275.75 L456.00,276.50 L456.00,277.25 L456.00,278.00 L456.00,278.75 L455.99,279.50 L455.99,280.25 L455.99,281.00 L455.99,281.75 L455.99,282.50 L455.98,283.25 L455.98,284.00 L455.98,284.75 L455.98,285.50 L455.97,286.25 L455.97,287.00 L455.96,287.75 L455.96,288.50 L455.96,289.25 L455.95,290.00 L455.94,290.75 L455.92,291.50 L455.88,292.25 L455.84,293.00 L455.79,293.75 L455.68,294.50 L455.54,295.25 L455.40,296.00 L455.25,296.75 L455.09,297.50 L455.00,298.25 L455.04,299.00 L455.17,299.75 L455.32,300.50 L455.43,301.25 L455.52,302.00 L455.59,302.75 L455.55,303.50 L455.26,304.25 L454.90,305.00 L454.45,305.75 L454.11,306.50 L454.17,307.25 L454.33,308.00 L454.52,308.75 L454.70,309.50 L454.41,310.25 L453.60,311.00 L452.66,311.75 L451.34,312.50 L450.50,313.25 L450.05,314.00 L450.15,314.75 L450.70,315.50 L451.53,316.25 L451.77,317.00 L451.55,317.75 L451.10,318.50 L449.17,319.25 L446.51,320.00 L444.51,320.75 L442.99,321.50 L442.41,322.25 L442.22,323.00 L442.20,323.30 L470.00,323.30 L469.98,323.00 L469.79,322.25 L469.21,321.50 L467.69,320.75 L465.69,320.00 L463.03,319.25 L461.10,318.50 L460.65,317.75 L460.43,317.00 L460.67,316.25 L461.50,315.50 L462.05,314.75 L462.15,314.00 L461.70,313.25 L460.86,312.50 L459.54,311.75 L458.60,311.00 L457.79,310.25 L457.50,309.50 L457.68,308.75 L457.87,308.00 L458.03,307.25 L458.09,306.50 L457.75,305.75 L457.30,305.00 L456.94,304.25 L456.65,303.50 L456.61,302.75 L456.68,302.00 L456.77,301.25 L456.88,300.50 L457.03,299.75 L457.16,299.00 L457.20,298.25 L457.11,297.50 L456.95,296.75 L456.80,296.00 L456.66,295.25 L456.52,294.50 L456.41,293.75 L456.36,293.00 L456.32,292.25 L456.28,291.50 L456.26,290.75 L456.25,290.00 L456.24,289.25 L456.24,288.50 L456.24,287.75 L456.23,287.00 L456.23,286.25 L456.22,285.50 L456.22,284.75 L456.22,284.00 L456.22,283.25 L456.21,282.50 L456.21,281.75 L456.21,281.00 L456.21,280.25 L456.21,279.50 L456.20,278.75 L456.20,278.00 L456.20,277.25 L456.20,276.50 L456.20,275.75 L456.20,275.00 L456.20,274.25 L456.20,273.50Z" fill="#A8292B" stroke="#333333" stroke-width="1.4" stroke-linejoin="round"/>
<line x1="444.45" y1="321.60" x2="467.75" y2="321.60" stroke="#5e2224" stroke-width="2.4"/>
<line x1="450.00" y1="314.30" x2="462.20" y2="314.30" stroke="#333333" stroke-width="1.4"/>
<line x1="451.53" y1="317.80" x2="460.67" y2="317.80" stroke="#333333" stroke-width="1.4"/>
<path d="M490.00,216.60 L490.00,217.35 L490.00,218.10 L490.00,218.85 L490.00,219.60 L490.00,220.35 L490.00,221.10 L490.00,221.85 L490.00,222.60 L490.00,223.35 L490.00,224.10 L490.00,224.85 L490.00,225.60 L490.00,226.35 L490.00,227.10 L490.00,227.85 L490.00,228.60 L490.00,229.35 L490.00,230.10 L489.99,230.85 L489.99,231.60 L489.99,232.35 L489.99,233.10 L489.99,233.85 L489.99,234.60 L489.99,235.35 L489.99,236.10 L489.99,236.85 L489.99,237.60 L489.99,238.35 L489.99,239.10 L489.99,239.85 L489.99,240.60 L489.98,241.35 L489.98,242.10 L489.98,242.85 L489.98,243.60 L489.98,244.35 L489.98,245.10 L489.98,245.85 L489.98,246.60 L489.98,247.35 L489.97,248.10 L489.97,248.85 L489.97,249.60 L489.97,250.35 L489.97,251.10 L489.97,251.85 L489.97,252.60 L489.96,253.35 L489.96,254.10 L489.96,254.85 L489.96,255.60 L489.96,256.35 L489.96,257.10 L489.95,257.85 L489.95,258.60 L489.95,259.35 L489.95,260.10 L489.95,260.85 L489.94,261.60 L489.94,262.35 L489.94,263.10 L489.93,263.85 L489.92,264.60 L489.92,265.35 L489.91,266.10 L489.90,266.85 L489.90,267.60 L489.89,268.35 L489.88,269.10 L489.87,269.85 L489.87,270.60 L489.86,271.35 L489.85,272.10 L489.84,272.85 L489.83,273.60 L489.82,274.35 L489.82,275.10 L489.81,275.85 L489.80,276.60 L489.79,277.35 L489.78,278.10 L489.76,278.85 L489.75,279.60 L489.73,280.35 L489.72,281.10 L489.70,281.85 L489.67,282.60 L489.64,283.35 L489.59,284.10 L489.53,284.85 L489.47,285.60 L489.40,286.35 L489.32,287.10 L489.24,287.85 L489.15,288.60 L489.07,289.35 L488.98,290.10 L488.90,290.85 L488.81,291.60 L488.73,292.35 L488.65,293.10 L488.58,293.85 L488.51,294.60 L488.44,295.35 L488.37,296.10 L488.31,296.85 L488.23,297.60 L488.15,298.35 L488.06,299.10 L487.97,299.85 L487.85,300.60 L487.72,301.35 L487.58,302.10 L487.42,302.85 L487.25,303.60 L487.06,304.35 L486.86,305.10 L486.60,305.85 L486.32,306.60 L486.02,307.35 L485.72,308.10 L485.45,308.85 L485.20,309.60 L484.95,310.35 L484.72,311.10 L484.53,311.85 L484.39,312.60 L484.24,313.35 L484.11,314.10 L483.99,314.85 L483.90,315.60 L483.83,316.35 L483.80,317.10 L483.81,317.85 L483.85,318.60 L483.91,319.35 L484.00,320.10 L484.11,320.85 L484.31,321.60 L484.67,322.35 L485.43,323.10 L485.70,323.30 L494.50,323.30 L494.77,323.10 L495.53,322.35 L495.89,321.60 L496.09,320.85 L496.20,320.10 L496.29,319.35 L496.35,318.60 L496.39,317.85 L496.40,317.10 L496.37,316.35 L496.30,315.60 L496.21,314.85 L496.09,314.10 L495.96,313.35 L495.81,312.60 L495.67,311.85 L495.48,311.10 L495.25,310.35 L495.00,309.60 L494.75,308.85 L494.48,308.10 L494.18,307.35 L493.88,306.60 L493.60,305.85 L493.34,305.10 L493.14,304.35 L492.95,303.60 L492.78,302.85 L492.62,302.10 L492.48,301.35 L492.35,300.60 L492.23,299.85 L492.14,299.10 L492.05,298.35 L491.97,297.60 L491.89,296.85 L491.83,296.10 L491.76,295.35 L491.69,294.60 L491.62,293.85 L491.55,293.10 L491.47,292.35 L491.39,291.60 L491.30,290.85 L491.22,290.10 L491.13,289.35 L491.05,288.60 L490.96,287.85 L490.88,287.10 L490.80,286.35 L490.73,285.60 L490.67,284.85 L490.61,284.10 L490.56,283.35 L490.53,282.60 L490.50,281.85 L490.48,281.10 L490.47,280.35 L490.45,279.60 L490.44,278.85 L490.42,278.10 L490.41,277.35 L490.40,276.60 L490.39,275.85 L490.38,275.10 L490.38,274.35 L490.37,273.60 L490.36,272.85 L490.35,272.10 L490.34,271.35 L490.33,270.60 L490.33,269.85 L490.32,269.10 L490.31,268.35 L490.30,267.60 L490.30,266.85 L490.29,266.10 L490.28,265.35 L490.28,264.60 L490.27,263.85 L490.26,263.10 L490.26,262.35 L490.26,261.60 L490.25,260.85 L490.25,260.10 L490.25,259.35 L490.25,258.60 L490.25,257.85 L490.24,257.10 L490.24,256.35 L490.24,255.60 L490.24,254.85 L490.24,254.10 L490.24,253.35 L490.23,252.60 L490.23,251.85 L490.23,251.10 L490.23,250.35 L490.23,249.60 L490.23,248.85 L490.23,248.10 L490.22,247.35 L490.22,246.60 L490.22,245.85 L490.22,245.10 L490.22,244.35 L490.22,243.60 L490.22,242.85 L490.22,242.10 L490.22,241.35 L490.21,240.60 L490.21,239.85 L490.21,239.10 L490.21,238.35 L490.21,237.60 L490.21,236.85 L490.21,236.10 L490.21,235.35 L490.21,234.60 L490.21,233.85 L490.21,233.10 L490.21,232.35 L490.21,231.60 L490.21,230.85 L490.20,230.10 L490.20,229.35 L490.20,228.60 L490.20,227.85 L490.20,227.10 L490.20,226.35 L490.20,225.60 L490.20,224.85 L490.20,224.10 L490.20,223.35 L490.20,222.60 L490.20,221.85 L490.20,221.10 L490.20,220.35 L490.20,219.60 L490.20,218.85 L490.20,218.10 L490.20,217.35 L490.20,216.60Z" fill="#FFBAC5" stroke="#333333" stroke-width="1.4" stroke-linejoin="round"/>
<line x1="487.00" y1="304.60" x2="493.20" y2="304.60" stroke="#333333" stroke-width="1.4"/>
<line x1="484.50" y1="312.00" x2="495.70" y2="312.00" stroke="#333333" stroke-width="1.4"/>
<line x1="483.80" y1="317.30" x2="496.40" y2="317.30" stroke="#333333" stroke-width="1.4"/>
<path d="M517.80,273.50 L517.80,274.25 L517.78,275.00 L517.76,275.75 L517.73,276.50 L517.67,277.25 L517.49,278.00 L517.22,278.75 L517.00,279.50 L516.83,280.25 L516.67,281.00 L516.60,281.75 L516.68,282.50 L516.88,283.25 L517.10,284.00 L517.37,284.75 L517.63,285.50 L517.68,286.25 L517.51,287.00 L517.26,287.75 L517.07,288.50 L516.91,289.25 L516.93,290.00 L517.05,290.75 L517.20,291.50 L517.40,292.25 L517.62,293.00 L517.70,293.75 L517.55,294.50 L517.31,295.25 L517.10,296.00 L516.94,296.75 L516.81,297.50 L516.83,298.25 L516.96,299.00 L517.14,299.75 L517.34,300.50 L517.58,301.25 L517.70,302.00 L517.50,302.75 L517.11,303.50 L516.82,304.25 L516.57,305.00 L516.52,305.75 L516.67,306.50 L516.80,307.25 L516.76,308.00 L516.65,308.75 L516.29,309.50 L515.40,310.25 L514.43,311.00 L513.37,311.75 L512.62,312.50 L511.95,313.25 L511.54,314.00 L511.64,314.75 L512.22,315.50 L513.28,316.25 L513.70,317.00 L513.69,317.75 L513.40,318.50 L510.96,319.25 L508.28,320.00 L505.85,320.75 L504.77,321.50 L504.60,322.25 L504.51,323.00 L504.50,323.30 L531.30,323.30 L531.29,323.00 L531.20,322.25 L531.03,321.50 L529.95,320.75 L527.52,320.00 L524.84,319.25 L522.40,318.50 L522.11,317.75 L522.10,317.00 L522.52,316.25 L523.58,315.50 L524.16,314.75 L524.26,314.00 L523.85,313.25 L523.18,312.50 L522.43,311.75 L521.37,311.00 L520.40,310.25 L519.51,309.50 L519.15,308.75 L519.04,308.00 L519.00,307.25 L519.13,306.50 L519.28,305.75 L519.23,305.00 L518.98,304.25 L518.69,303.50 L518.30,302.75 L518.10,302.00 L518.22,301.25 L518.46,300.50 L518.66,299.75 L518.84,299.00 L518.97,298.25 L518.99,297.50 L518.86,296.75 L518.70,296.00 L518.49,295.25 L518.25,294.50 L518.10,293.75 L518.18,293.00 L518.40,292.25 L518.60,291.50 L518.75,290.75 L518.87,290.00 L518.89,289.25 L518.73,288.50 L518.54,287.75 L518.29,287.00 L518.12,286.25 L518.17,285.50 L518.43,284.75 L518.70,284.00 L518.92,283.25 L519.12,282.50 L519.20,281.75 L519.13,281.00 L518.97,280.25 L518.80,279.50 L518.58,278.75 L518.31,278.00 L518.13,277.25 L518.07,276.50 L518.04,275.75 L518.02,275.00 L518.00,274.25 L518.00,273.50Z" fill="#ADD8E6" stroke="#333333" stroke-width="1.4" stroke-linejoin="round"/>
<line x1="506.34" y1="321.60" x2="529.46" y2="321.60" stroke="#587683" stroke-width="2.4"/>
<line x1="511.50" y1="314.30" x2="524.30" y2="314.30" stroke="#333333" stroke-width="1.4"/>
<line x1="513.63" y1="318.00" x2="522.17" y2="318.00" stroke="#333333" stroke-width="1.4"/>
<rect x="405.6" y="211.3" width="134.89999999999998" height="116.69999999999999" fill="none" stroke="#4a4a4a" stroke-width="1.1"/>
<rect x="405.6" y="191.5" width="134.89999999999998" height="19.80000000000001" fill="#D9D9D9" stroke="#666" stroke-width="1.0"/>
<text x="473.05" y="206.10" font-size="10.67" fill="#1A1A1A" stroke="#1A1A1A" stroke-width="0.15" text-anchor="middle" font-family="Liberation Sans, Arial, Helvetica, sans-serif">(f) E-NS: connectivity</text>
<line x1="401.90" x2="405.6" y1="323.00" y2="323.00" stroke="#333" stroke-width="1.1"/>
<text x="399.20" y="327.20" font-size="10.67" fill="#4D4D4D" stroke="#4D4D4D" stroke-width="0.18" text-anchor="end" font-family="Liberation Sans, Arial, Helvetica, sans-serif">0</text>
<line x1="401.90" x2="405.6" y1="282.00" y2="282.00" stroke="#333" stroke-width="1.1"/>
<text x="399.20" y="286.20" font-size="10.67" fill="#4D4D4D" stroke="#4D4D4D" stroke-width="0.18" text-anchor="end" font-family="Liberation Sans, Arial, Helvetica, sans-serif">10</text>
<line x1="401.90" x2="405.6" y1="241.00" y2="241.00" stroke="#333" stroke-width="1.1"/>
<text x="399.20" y="245.20" font-size="10.67" fill="#4D4D4D" stroke="#4D4D4D" stroke-width="0.18" text-anchor="end" font-family="Liberation Sans, Arial, Helvetica, sans-serif">20</text>
<line x1="442.40" x2="442.40" y1="328" y2="331.70" stroke="#333" stroke-width="1.1"/>
<text x="442.40" y="342.80" font-size="10.67" fill="#4D4D4D" stroke="#4D4D4D" stroke-width="0.18" text-anchor="middle" font-family="Liberation Sans, Arial, Helvetica, sans-serif">Interval</text>
<line x1="503.80" x2="503.80" y1="328" y2="331.70" stroke="#333" stroke-width="1.1"/>
<text x="503.80" y="342.80" font-size="10.67" fill="#4D4D4D" stroke="#4D4D4D" stroke-width="0.18" text-anchor="middle" font-family="Liberation Sans, Arial, Helvetica, sans-serif">Severity</text>
<text x="473.05" y="357.10" font-size="13.2" fill="#000" stroke="#000" stroke-width="0.2" text-anchor="middle" font-family="Liberation Sans, Arial, Helvetica, sans-serif">Fire</text>
<text transform="translate(380.5,269.65) rotate(-90)" font-size="13.33" fill="#000" stroke="#000" stroke-width="0.2" text-anchor="middle" font-family="Liberation Sans, Arial, Helvetica, sans-serif">Cover (%)</text>
<rect x="41" y="393.6" width="134.9" height="116.79999999999995" fill="#fff"/>
<line x1="41" x2="175.9" y1="494.94" y2="494.94" stroke="#EBEBEB" stroke-width="0.7"/>
<line x1="41" x2="175.9" y1="473.61" y2="473.61" stroke="#EBEBEB" stroke-width="0.7"/>
<line x1="41" x2="175.9" y1="452.28" y2="452.28" stroke="#EBEBEB" stroke-width="0.7"/>
<line x1="41" x2="175.9" y1="430.95" y2="430.95" stroke="#EBEBEB" stroke-width="0.7"/>
<line x1="41" x2="175.9" y1="409.62" y2="409.62" stroke="#EBEBEB" stroke-width="0.7"/>
<line x1="41" x2="175.9" y1="505.60" y2="505.60" stroke="#ECECEC" stroke-width="1.2"/>
<line x1="41" x2="175.9" y1="484.27" y2="484.27" stroke="#ECECEC" stroke-width="1.2"/>
<line x1="41" x2="175.9" y1="462.94" y2="462.94" stroke="#ECECEC" stroke-width="1.2"/>
<line x1="41" x2="175.9" y1="441.61" y2="441.61" stroke="#ECECEC" stroke-width="1.2"/>
<line x1="41" x2="175.9" y1="420.28" y2="420.28" stroke="#ECECEC" stroke-width="1.2"/>
<line x1="41" x2="175.9" y1="398.95" y2="398.95" stroke="#ECECEC" stroke-width="1.2"/>
<line x1="77.80" x2="77.80" y1="393.6" y2="510.4" stroke="#ECECEC" stroke-width="1.2"/>
<line x1="139.40" x2="139.40" y1="393.6" y2="510.4" stroke="#ECECEC" stroke-width="1.2"/>
<path d="M63.60,409.40 L63.60,410.15 L63.60,410.90 L63.60,411.65 L63.59,412.40 L63.59,413.15 L63.58,413.90 L63.58,414.65 L63.57,415.40 L63.56,416.15 L63.55,416.90 L63.54,417.65 L63.53,418.40 L63.52,419.15 L63.50,419.90 L63.46,420.65 L63.38,421.40 L63.28,422.15 L63.14,422.90 L62.96,423.65 L62.75,424.40 L62.53,425.15 L62.33,425.90 L62.13,426.65 L61.92,427.40 L61.71,428.15 L61.50,428.90 L61.28,429.65 L61.07,430.40 L60.87,431.15 L60.67,431.90 L60.48,432.65 L60.31,433.40 L60.15,434.15 L59.99,434.90 L59.84,435.65 L59.69,436.40 L59.55,437.15 L59.41,437.90 L59.26,438.65 L59.12,439.40 L58.97,440.15 L58.82,440.90 L58.66,441.65 L58.50,442.40 L58.35,443.15 L58.19,443.90 L58.05,444.65 L57.91,445.40 L57.77,446.15 L57.64,446.90 L57.50,447.65 L57.36,448.40 L57.22,449.15 L57.09,449.90 L56.96,450.65 L56.84,451.40 L56.73,452.15 L56.64,452.90 L56.57,453.65 L56.52,454.40 L56.50,455.15 L56.48,455.90 L56.47,456.65 L56.46,457.40 L56.46,458.15 L56.45,458.90 L56.44,459.65 L56.44,460.40 L56.43,461.15 L56.42,461.90 L56.41,462.65 L56.39,463.40 L56.36,464.15 L56.32,464.90 L56.27,465.65 L56.21,466.40 L56.14,467.15 L56.07,467.90 L55.99,468.65 L55.91,469.40 L55.82,470.15 L55.74,470.90 L55.65,471.65 L55.57,472.40 L55.48,473.15 L55.39,473.90 L55.28,474.65 L55.16,475.40 L55.03,476.15 L54.90,476.90 L54.77,477.65 L54.65,478.40 L54.54,479.15 L54.44,479.90 L54.37,480.65 L54.32,481.40 L54.29,482.15 L54.27,482.90 L54.25,483.65 L54.24,484.40 L54.22,485.15 L54.21,485.90 L54.21,486.65 L54.20,487.40 L54.20,488.15 L54.26,488.90 L54.39,489.65 L54.57,490.40 L54.79,491.15 L55.03,491.90 L55.28,492.65 L55.51,493.40 L55.72,494.15 L55.89,494.90 L56.05,495.65 L56.20,496.40 L56.35,497.15 L56.50,497.90 L56.65,498.65 L56.79,499.40 L56.94,500.15 L57.08,500.90 L57.21,501.65 L57.33,502.40 L57.44,503.15 L57.59,503.90 L57.78,504.65 L58.17,505.40 L58.60,506.00 L69.00,506.00 L69.43,505.40 L69.82,504.65 L70.01,503.90 L70.16,503.15 L70.27,502.40 L70.39,501.65 L70.52,500.90 L70.66,500.15 L70.81,499.40 L70.95,498.65 L71.10,497.90 L71.25,497.15 L71.40,496.40 L71.55,495.65 L71.71,494.90 L71.88,494.15 L72.09,493.40 L72.32,492.65 L72.57,491.90 L72.81,491.15 L73.03,490.40 L73.21,489.65 L73.34,488.90 L73.40,488.15 L73.40,487.40 L73.39,486.65 L73.39,485.90 L73.38,485.15 L73.36,484.40 L73.35,483.65 L73.33,482.90 L73.31,482.15 L73.28,481.40 L73.23,480.65 L73.16,479.90 L73.06,479.15 L72.95,478.40 L72.83,477.65 L72.70,476.90 L72.57,476.15 L72.44,475.40 L72.32,474.65 L72.21,473.90 L72.12,473.15 L72.03,472.40 L71.95,471.65 L71.86,470.90 L71.78,470.15 L71.69,469.40 L71.61,468.65 L71.53,467.90 L71.46,467.15 L71.39,466.40 L71.33,465.65 L71.28,464.90 L71.24,464.15 L71.21,463.40 L71.19,462.65 L71.18,461.90 L71.17,461.15 L71.16,460.40 L71.16,459.65 L71.15,458.90 L71.14,458.15 L71.14,457.40 L71.13,456.65 L71.12,455.90 L71.10,455.15 L71.08,454.40 L71.03,453.65 L70.96,452.90 L70.87,452.15 L70.76,451.40 L70.64,450.65 L70.51,449.90 L70.38,449.15 L70.24,448.40 L70.10,447.65 L69.96,446.90 L69.83,446.15 L69.69,445.40 L69.55,444.65 L69.41,443.90 L69.25,443.15 L69.10,442.40 L68.94,441.65 L68.78,440.90 L68.63,440.15 L68.48,439.40 L68.34,438.65 L68.19,437.90 L68.05,437.15 L67.91,436.40 L67.76,435.65 L67.61,434.90 L67.45,434.15 L67.29,433.40 L67.12,432.65 L66.93,431.90 L66.73,431.15 L66.53,430.40 L66.32,429.65 L66.10,428.90 L65.89,428.15 L65.68,427.40 L65.47,426.65 L65.27,425.90 L65.07,425.15 L64.85,424.40 L64.64,423.65 L64.46,422.90 L64.32,422.15 L64.22,421.40 L64.14,420.65 L64.10,419.90 L64.08,419.15 L64.07,418.40 L64.06,417.65 L64.05,416.90 L64.04,416.15 L64.03,415.40 L64.02,414.65 L64.02,413.90 L64.01,413.15 L64.01,412.40 L64.00,411.65 L64.00,410.90 L64.00,410.15 L64.00,409.40Z" fill="#FFBAC5" stroke="#333333" stroke-width="1.4" stroke-linejoin="round"/>
<line x1="56.50" y1="455.00" x2="71.10" y2="455.00" stroke="#333333" stroke-width="1.4"/>
<line x1="55.50" y1="473.00" x2="72.10" y2="473.00" stroke="#333333" stroke-width="1.4"/>
<line x1="54.20" y1="487.80" x2="73.40" y2="487.80" stroke="#333333" stroke-width="1.4"/>
<path d="M91.30,420.00 L91.30,420.75 L91.30,421.50 L91.29,422.25 L91.28,423.00 L91.28,423.75 L91.27,424.50 L91.26,425.25 L91.24,426.00 L91.23,426.75 L91.21,427.50 L91.20,428.25 L91.18,429.00 L91.16,429.75 L91.14,430.50 L91.12,431.25 L91.10,432.00 L91.07,432.75 L91.04,433.50 L90.99,434.25 L90.94,435.00 L90.88,435.75 L90.82,436.50 L90.76,437.25 L90.69,438.00 L90.62,438.75 L90.55,439.50 L90.48,440.25 L90.40,441.00 L90.31,441.75 L90.21,442.50 L90.11,443.25 L90.02,444.00 L89.93,444.75 L89.85,445.50 L89.78,446.25 L89.72,447.00 L89.67,447.75 L89.62,448.50 L89.57,449.25 L89.53,450.00 L89.48,450.75 L89.43,451.50 L89.38,452.25 L89.33,453.00 L89.28,453.75 L89.22,454.50 L89.17,455.25 L89.11,456.00 L89.05,456.75 L88.99,457.50 L88.93,458.25 L88.87,459.00 L88.80,459.75 L88.74,460.50 L88.67,461.25 L88.59,462.00 L88.49,462.75 L88.37,463.50 L88.21,464.25 L88.03,465.00 L87.84,465.75 L87.65,466.50 L87.44,467.25 L87.23,468.00 L87.00,468.75 L86.79,469.50 L86.58,470.25 L86.38,471.00 L86.17,471.75 L85.94,472.50 L85.69,473.25 L85.40,474.00 L85.05,474.75 L84.65,475.50 L84.25,476.25 L83.85,477.00 L83.48,477.75 L83.11,478.50 L82.75,479.25 L82.39,480.00 L82.05,480.75 L81.72,481.50 L81.42,482.25 L81.12,483.00 L80.84,483.75 L80.56,484.50 L80.30,485.25 L80.06,486.00 L79.84,486.75 L79.64,487.50 L79.45,488.25 L79.27,489.00 L79.10,489.75 L78.95,490.50 L78.81,491.25 L78.70,492.00 L78.60,492.75 L78.52,493.50 L78.44,494.25 L78.37,495.00 L78.31,495.75 L78.25,496.50 L78.19,497.25 L78.12,498.00 L78.06,498.75 L78.01,499.50 L78.00,500.25 L78.01,501.00 L78.03,501.75 L78.05,502.50 L78.09,503.25 L78.18,504.00 L78.40,504.75 L79.03,505.50 L79.90,506.00 L103.10,506.00 L103.97,505.50 L104.60,504.75 L104.82,504.00 L104.91,503.25 L104.95,502.50 L104.97,501.75 L104.99,501.00 L105.00,500.25 L104.99,499.50 L104.94,498.75 L104.88,498.00 L104.81,497.25 L104.75,496.50 L104.69,495.75 L104.63,495.00 L104.56,494.25 L104.48,493.50 L104.40,492.75 L104.30,492.00 L104.19,491.25 L104.05,490.50 L103.90,489.75 L103.73,489.00 L103.55,488.25 L103.36,487.50 L103.16,486.75 L102.94,486.00 L102.70,485.25 L102.44,484.50 L102.16,483.75 L101.88,483.00 L101.58,482.25 L101.28,481.50 L100.95,480.75 L100.61,480.00 L100.25,479.25 L99.89,478.50 L99.52,477.75 L99.15,477.00 L98.75,476.25 L98.35,475.50 L97.95,474.75 L97.60,474.00 L97.31,473.25 L97.06,472.50 L96.83,471.75 L96.62,471.00 L96.42,470.25 L96.21,469.50 L96.00,468.75 L95.77,468.00 L95.56,467.25 L95.35,466.50 L95.16,465.75 L94.97,465.00 L94.79,464.25 L94.63,463.50 L94.51,462.75 L94.41,462.00 L94.33,461.25 L94.26,460.50 L94.20,459.75 L94.13,459.00 L94.07,458.25 L94.01,457.50 L93.95,456.75 L93.89,456.00 L93.83,455.25 L93.78,454.50 L93.72,453.75 L93.67,453.00 L93.62,452.25 L93.57,451.50 L93.52,450.75 L93.47,450.00 L93.43,449.25 L93.38,448.50 L93.33,447.75 L93.28,447.00 L93.22,446.25 L93.15,445.50 L93.07,444.75 L92.98,444.00 L92.89,443.25 L92.79,442.50 L92.69,441.75 L92.60,441.00 L92.52,440.25 L92.45,439.50 L92.38,438.75 L92.31,438.00 L92.24,437.25 L92.18,436.50 L92.12,435.75 L92.06,435.00 L92.01,434.25 L91.96,433.50 L91.93,432.75 L91.90,432.00 L91.88,431.25 L91.86,430.50 L91.84,429.75 L91.82,429.00 L91.80,428.25 L91.79,427.50 L91.77,426.75 L91.76,426.00 L91.74,425.25 L91.73,424.50 L91.72,423.75 L91.72,423.00 L91.71,422.25 L91.70,421.50 L91.70,420.75 L91.70,420.00Z" fill="#ADD8E6" stroke="#333333" stroke-width="1.4" stroke-linejoin="round"/>
<line x1="85.60" y1="473.50" x2="97.40" y2="473.50" stroke="#333333" stroke-width="1.4"/>
<line x1="79.80" y1="486.90" x2="103.20" y2="486.90" stroke="#333333" stroke-width="1.4"/>
<line x1="78.20" y1="497.10" x2="104.80" y2="497.10" stroke="#333333" stroke-width="1.4"/>
<path d="M125.10,401.00 L125.07,401.75 L125.04,402.50 L125.00,403.25 L124.97,404.00 L124.94,404.75 L124.90,405.50 L124.87,406.25 L124.84,407.00 L124.80,407.75 L124.77,408.50 L124.73,409.25 L124.70,410.00 L124.67,410.75 L124.63,411.50 L124.60,412.25 L124.56,413.00 L124.52,413.75 L124.49,414.50 L124.45,415.25 L124.42,416.00 L124.38,416.75 L124.34,417.50 L124.31,418.25 L124.27,419.00 L124.24,419.75 L124.20,420.50 L124.16,421.25 L124.13,422.00 L124.09,422.75 L124.06,423.50 L124.02,424.25 L123.99,425.00 L123.95,425.75 L123.92,426.50 L123.88,427.25 L123.85,428.00 L123.81,428.75 L123.78,429.50 L123.74,430.25 L123.70,431.00 L123.66,431.75 L123.63,432.50 L123.59,433.25 L123.55,434.00 L123.51,434.75 L123.46,435.50 L123.42,436.25 L123.38,437.00 L123.34,437.75 L123.29,438.50 L123.25,439.25 L123.20,440.00 L123.16,440.75 L123.11,441.50 L123.07,442.25 L123.03,443.00 L122.98,443.75 L122.93,444.50 L122.87,445.25 L122.80,446.00 L122.71,446.75 L122.59,447.50 L122.45,448.25 L122.29,449.00 L122.12,449.75 L121.94,450.50 L121.76,451.25 L121.57,452.00 L121.39,452.75 L121.19,453.50 L120.98,454.25 L120.77,455.00 L120.54,455.75 L120.32,456.50 L120.09,457.25 L119.87,458.00 L119.66,458.75 L119.44,459.50 L119.23,460.25 L119.02,461.00 L118.84,461.75 L118.66,462.50 L118.48,463.25 L118.30,464.00 L118.13,464.75 L117.96,465.50 L117.80,466.25 L117.65,467.00 L117.52,467.75 L117.39,468.50 L117.29,469.25 L117.20,470.00 L117.12,470.75 L117.04,471.50 L116.97,472.25 L116.90,473.00 L116.84,473.75 L116.79,474.50 L116.74,475.25 L116.72,476.00 L116.70,476.75 L116.70,477.50 L116.70,478.25 L116.70,479.00 L116.70,479.75 L116.70,480.50 L116.70,481.25 L116.70,482.00 L116.70,482.75 L116.70,483.50 L116.70,484.25 L116.72,485.00 L116.75,485.75 L116.79,486.50 L116.84,487.25 L116.89,488.00 L116.94,488.75 L116.98,489.50 L117.01,490.25 L117.03,491.00 L117.05,491.75 L117.07,492.50 L117.08,493.25 L117.10,494.00 L117.11,494.75 L117.13,495.50 L117.15,496.25 L117.17,497.00 L117.19,497.75 L117.22,498.50 L117.25,499.25 L117.28,500.00 L117.32,500.75 L117.37,501.50 L117.43,502.25 L117.50,503.00 L117.62,503.75 L117.81,504.50 L118.15,505.25 L118.90,506.00 L132.10,506.00 L132.85,505.25 L133.19,504.50 L133.38,503.75 L133.50,503.00 L133.57,502.25 L133.63,501.50 L133.68,500.75 L133.72,500.00 L133.75,499.25 L133.78,498.50 L133.81,497.75 L133.83,497.00 L133.85,496.25 L133.87,495.50 L133.89,494.75 L133.90,494.00 L133.92,493.25 L133.93,492.50 L133.95,491.75 L133.97,491.00 L133.99,490.25 L134.02,489.50 L134.06,488.75 L134.11,488.00 L134.16,487.25 L134.21,486.50 L134.25,485.75 L134.28,485.00 L134.30,484.25 L134.30,483.50 L134.30,482.75 L134.30,482.00 L134.30,481.25 L134.30,480.50 L134.30,479.75 L134.30,479.00 L134.30,478.25 L134.30,477.50 L134.30,476.75 L134.28,476.00 L134.26,475.25 L134.21,474.50 L134.16,473.75 L134.10,473.00 L134.03,472.25 L133.96,471.50 L133.88,470.75 L133.80,470.00 L133.71,469.25 L133.61,468.50 L133.48,467.75 L133.35,467.00 L133.20,466.25 L133.04,465.50 L132.87,464.75 L132.70,464.00 L132.52,463.25 L132.34,462.50 L132.16,461.75 L131.98,461.00 L131.77,460.25 L131.56,459.50 L131.34,458.75 L131.13,458.00 L130.91,457.25 L130.68,456.50 L130.46,455.75 L130.23,455.00 L130.02,454.25 L129.81,453.50 L129.61,452.75 L129.43,452.00 L129.24,451.25 L129.06,450.50 L128.88,449.75 L128.71,449.00 L128.55,448.25 L128.41,447.50 L128.29,446.75 L128.20,446.00 L128.13,445.25 L128.07,444.50 L128.02,443.75 L127.97,443.00 L127.93,442.25 L127.89,441.50 L127.84,440.75 L127.80,440.00 L127.75,439.25 L127.71,438.50 L127.66,437.75 L127.62,437.00 L127.58,436.25 L127.54,435.50 L127.49,434.75 L127.45,434.00 L127.41,433.25 L127.37,432.50 L127.34,431.75 L127.30,431.00 L127.26,430.25 L127.22,429.50 L127.19,428.75 L127.15,428.00 L127.12,427.25 L127.08,426.50 L127.05,425.75 L127.01,425.00 L126.98,424.25 L126.94,423.50 L126.91,422.75 L126.87,422.00 L126.84,421.25 L126.80,420.50 L126.76,419.75 L126.73,419.00 L126.69,418.25 L126.66,417.50 L126.62,416.75 L126.58,416.00 L126.55,415.25 L126.51,414.50 L126.48,413.75 L126.44,413.00 L126.40,412.25 L126.37,411.50 L126.33,410.75 L126.30,410.00 L126.27,409.25 L126.23,408.50 L126.20,407.75 L126.16,407.00 L126.13,406.25 L126.10,405.50 L126.06,404.75 L126.03,404.00 L126.00,403.25 L125.96,402.50 L125.93,401.75 L125.90,401.00Z" fill="#FFBAC5" stroke="#333333" stroke-width="1.4" stroke-linejoin="round"/>
<line x1="118.88" y1="461.60" x2="132.12" y2="461.60" stroke="#333333" stroke-width="1.4"/>
<line x1="116.70" y1="476.80" x2="134.30" y2="476.80" stroke="#333333" stroke-width="1.4"/>
<line x1="117.01" y1="490.30" x2="133.99" y2="490.30" stroke="#333333" stroke-width="1.4"/>
<path d="M148.60,399.00 L148.10,399.75 L147.65,400.50 L147.29,401.25 L146.96,402.00 L146.67,402.75 L146.41,403.50 L146.18,404.25 L146.00,405.00 L145.84,405.75 L145.69,406.50 L145.54,407.25 L145.40,408.00 L145.28,408.75 L145.17,409.50 L145.09,410.25 L145.03,411.00 L145.00,411.75 L145.00,412.50 L145.00,413.25 L145.00,414.00 L145.00,414.75 L145.00,415.50 L145.00,416.25 L145.00,417.00 L145.02,417.75 L145.08,418.50 L145.16,419.25 L145.27,420.00 L145.40,420.75 L145.55,421.50 L145.69,422.25 L145.84,423.00 L145.99,423.75 L146.12,424.50 L146.24,425.25 L146.36,426.00 L146.48,426.75 L146.62,427.50 L146.75,428.25 L146.88,429.00 L147.02,429.75 L147.15,430.50 L147.27,431.25 L147.39,432.00 L147.50,432.75 L147.60,433.50 L147.68,434.25 L147.75,435.00 L147.81,435.75 L147.86,436.50 L147.91,437.25 L147.95,438.00 L148.00,438.75 L148.04,439.50 L148.07,440.25 L148.11,441.00 L148.14,441.75 L148.16,442.50 L148.18,443.25 L148.19,444.00 L148.20,444.75 L148.20,445.50 L148.20,446.25 L148.20,447.00 L148.20,447.75 L148.20,448.50 L148.20,449.25 L148.20,450.00 L148.20,450.75 L148.20,451.50 L148.20,452.25 L148.20,453.00 L148.20,453.75 L148.20,454.50 L148.20,455.25 L148.20,456.00 L148.20,456.75 L148.20,457.50 L148.21,458.25 L148.25,459.00 L148.33,459.75 L148.42,460.50 L148.51,461.25 L148.60,462.00 L148.68,462.75 L148.76,463.50 L148.84,464.25 L148.92,465.00 L149.00,465.75 L149.09,466.50 L149.18,467.25 L149.27,468.00 L149.36,468.75 L149.45,469.50 L149.55,470.25 L149.65,471.00 L149.76,471.75 L149.87,472.50 L149.97,473.25 L150.08,474.00 L150.17,474.75 L150.26,475.50 L150.35,476.25 L150.43,477.00 L150.51,477.75 L150.59,478.50 L150.67,479.25 L150.74,480.00 L150.81,480.75 L150.88,481.50 L150.94,482.25 L150.99,483.00 L151.05,483.75 L151.11,484.50 L151.16,485.25 L151.21,486.00 L151.25,486.75 L151.28,487.50 L151.30,488.25 L151.32,489.00 L151.34,489.75 L151.35,490.50 L151.37,491.25 L151.38,492.00 L151.39,492.75 L151.40,493.50 L151.40,494.25 L151.40,495.00 L151.40,495.75 L151.40,496.50 L151.40,497.25 L151.40,498.00 L151.40,498.75 L151.40,499.50 L151.40,500.25 L151.40,501.00 L151.40,501.75 L151.40,502.50 L151.40,503.25 L151.40,504.00 L151.40,504.75 L151.55,505.50 L151.70,506.00 L154.30,506.00 L154.45,505.50 L154.60,504.75 L154.60,504.00 L154.60,503.25 L154.60,502.50 L154.60,501.75 L154.60,501.00 L154.60,500.25 L154.60,499.50 L154.60,498.75 L154.60,498.00 L154.60,497.25 L154.60,496.50 L154.60,495.75 L154.60,495.00 L154.60,494.25 L154.60,493.50 L154.61,492.75 L154.62,492.00 L154.63,491.25 L154.65,490.50 L154.66,489.75 L154.68,489.00 L154.70,488.25 L154.72,487.50 L154.75,486.75 L154.79,486.00 L154.84,485.25 L154.89,484.50 L154.95,483.75 L155.01,483.00 L155.06,482.25 L155.12,481.50 L155.19,480.75 L155.26,480.00 L155.33,479.25 L155.41,478.50 L155.49,477.75 L155.57,477.00 L155.65,476.25 L155.74,475.50 L155.83,474.75 L155.92,474.00 L156.03,473.25 L156.13,472.50 L156.24,471.75 L156.35,471.00 L156.45,470.25 L156.55,469.50 L156.64,468.75 L156.73,468.00 L156.82,467.25 L156.91,466.50 L157.00,465.75 L157.08,465.00 L157.16,464.25 L157.24,463.50 L157.32,462.75 L157.40,462.00 L157.49,461.25 L157.58,460.50 L157.67,459.75 L157.75,459.00 L157.79,458.25 L157.80,457.50 L157.80,456.75 L157.80,456.00 L157.80,455.25 L157.80,454.50 L157.80,453.75 L157.80,453.00 L157.80,452.25 L157.80,451.50 L157.80,450.75 L157.80,450.00 L157.80,449.25 L157.80,448.50 L157.80,447.75 L157.80,447.00 L157.80,446.25 L157.80,445.50 L157.80,444.75 L157.81,444.00 L157.82,443.25 L157.84,442.50 L157.86,441.75 L157.89,441.00 L157.93,440.25 L157.96,439.50 L158.00,438.75 L158.05,438.00 L158.09,437.25 L158.14,436.50 L158.19,435.75 L158.25,435.00 L158.32,434.25 L158.40,433.50 L158.50,432.75 L158.61,432.00 L158.73,431.25 L158.85,430.50 L158.98,429.75 L159.12,429.00 L159.25,428.25 L159.38,427.50 L159.52,426.75 L159.64,426.00 L159.76,425.25 L159.88,424.50 L160.01,423.75 L160.16,423.00 L160.31,422.25 L160.45,421.50 L160.60,420.75 L160.73,420.00 L160.84,419.25 L160.92,418.50 L160.98,417.75 L161.00,417.00 L161.00,416.25 L161.00,415.50 L161.00,414.75 L161.00,414.00 L161.00,413.25 L161.00,412.50 L161.00,411.75 L160.97,411.00 L160.91,410.25 L160.83,409.50 L160.72,408.75 L160.60,408.00 L160.46,407.25 L160.31,406.50 L160.16,405.75 L160.00,405.00 L159.82,404.25 L159.59,403.50 L159.33,402.75 L159.04,402.00 L158.71,401.25 L158.35,400.50 L157.90,399.75 L157.40,399.00Z" fill="#ADD8E6" stroke="#333333" stroke-width="1.4" stroke-linejoin="round"/>
<line x1="145.00" y1="417.00" x2="161.00" y2="417.00" stroke="#333333" stroke-width="1.4"/>
<line x1="147.80" y1="435.60" x2="158.20" y2="435.60" stroke="#333333" stroke-width="1.4"/>
<line x1="148.20" y1="457.80" x2="157.80" y2="457.80" stroke="#333333" stroke-width="1.4"/>
<rect x="41" y="393.6" width="134.9" height="116.79999999999995" fill="none" stroke="#4a4a4a" stroke-width="1.1"/>
<rect x="41" y="373.8" width="134.9" height="19.80000000000001" fill="#D9D9D9" stroke="#666" stroke-width="1.0"/>
<text x="108.45" y="388.40" font-size="10.67" fill="#1A1A1A" stroke="#1A1A1A" stroke-width="0.15" text-anchor="middle" font-family="Liberation Sans, Arial, Helvetica, sans-serif">(g) Tree canopy cover</text>
<line x1="37.30" x2="41" y1="505.60" y2="505.60" stroke="#333" stroke-width="1.1"/>
<text x="34.60" y="509.80" font-size="10.67" fill="#4D4D4D" stroke="#4D4D4D" stroke-width="0.18" text-anchor="end" font-family="Liberation Sans, Arial, Helvetica, sans-serif">0</text>
<line x1="37.30" x2="41" y1="484.27" y2="484.27" stroke="#333" stroke-width="1.1"/>
<text x="34.60" y="488.47" font-size="10.67" fill="#4D4D4D" stroke="#4D4D4D" stroke-width="0.18" text-anchor="end" font-family="Liberation Sans, Arial, Helvetica, sans-serif">10</text>
<line x1="37.30" x2="41" y1="462.94" y2="462.94" stroke="#333" stroke-width="1.1"/>
<text x="34.60" y="467.14" font-size="10.67" fill="#4D4D4D" stroke="#4D4D4D" stroke-width="0.18" text-anchor="end" font-family="Liberation Sans, Arial, Helvetica, sans-serif">20</text>
<line x1="37.30" x2="41" y1="441.61" y2="441.61" stroke="#333" stroke-width="1.1"/>
<text x="34.60" y="445.81" font-size="10.67" fill="#4D4D4D" stroke="#4D4D4D" stroke-width="0.18" text-anchor="end" font-family="Liberation Sans, Arial, Helvetica, sans-serif">30</text>
<line x1="37.30" x2="41" y1="420.28" y2="420.28" stroke="#333" stroke-width="1.1"/>
<text x="34.60" y="424.48" font-size="10.67" fill="#4D4D4D" stroke="#4D4D4D" stroke-width="0.18" text-anchor="end" font-family="Liberation Sans, Arial, Helvetica, sans-serif">40</text>
<line x1="37.30" x2="41" y1="398.95" y2="398.95" stroke="#333" stroke-width="1.1"/>
<text x="34.60" y="403.15" font-size="10.67" fill="#4D4D4D" stroke="#4D4D4D" stroke-width="0.18" text-anchor="end" font-family="Liberation Sans, Arial, Helvetica, sans-serif">50</text>
<line x1="77.80" x2="77.80" y1="510.4" y2="514.10" stroke="#333" stroke-width="1.1"/>
<text x="77.80" y="525.20" font-size="10.67" fill="#4D4D4D" stroke="#4D4D4D" stroke-width="0.18" text-anchor="middle" font-family="Liberation Sans, Arial, Helvetica, sans-serif">Dead</text>
<line x1="139.40" x2="139.40" y1="510.4" y2="514.10" stroke="#333" stroke-width="1.1"/>
<text x="139.40" y="525.20" font-size="10.67" fill="#4D4D4D" stroke="#4D4D4D" stroke-width="0.18" text-anchor="middle" font-family="Liberation Sans, Arial, Helvetica, sans-serif">Live</text>
<text x="108.45" y="539.50" font-size="13.2" fill="#000" stroke="#000" stroke-width="0.2" text-anchor="middle" font-family="Liberation Sans, Arial, Helvetica, sans-serif">Fire severity</text>
<text transform="translate(16.2,452.00) rotate(-90)" font-size="13.33" fill="#000" stroke="#000" stroke-width="0.2" text-anchor="middle" font-family="Liberation Sans, Arial, Helvetica, sans-serif">Cover (%)</text>
<text x="75.3" y="581.2" font-size="13.2" fill="#000" stroke="#000" stroke-width="0.2" font-family="Liberation Sans, Arial, Helvetica, sans-serif">Fire interval</text>
<rect x="150.85" y="567.15" width="18.7" height="18.7" fill="#90EE90" stroke="#333" stroke-width="1.3"/>
<text x="177.2" y="581.2" font-size="10.67" fill="#000" stroke="#000" stroke-width="0.2" font-family="Liberation Sans, Arial, Helvetica, sans-serif">Long</text>
<rect x="208.65" y="567.15" width="18.7" height="18.7" fill="#A8292B" stroke="#333" stroke-width="1.3"/>
<text x="235.2" y="581.2" font-size="10.67" fill="#000" stroke="#000" stroke-width="0.2" font-family="Liberation Sans, Arial, Helvetica, sans-serif">Short</text>
<text x="277.3" y="581.2" font-size="13.2" fill="#000" stroke="#000" stroke-width="0.2" font-family="Liberation Sans, Arial, Helvetica, sans-serif">Fire severity</text>
<rect x="356.2" y="567.15" width="18.7" height="18.7" fill="#FFBAC5" stroke="#333" stroke-width="1.3"/>
<text x="383" y="581.2" font-size="10.67" fill="#000" stroke="#000" stroke-width="0.2" font-family="Liberation Sans, Arial, Helvetica, sans-serif">High</text>
<rect x="412.2" y="567.15" width="18.7" height="18.7" fill="#ADD8E6" stroke="#333" stroke-width="1.3"/>
<text x="438.8" y="581.2" font-size="10.67" fill="#000" stroke="#000" stroke-width="0.2" font-family="Liberation Sans, Arial, Helvetica, sans-serif">Low</text>
</svg>
</body></html>
